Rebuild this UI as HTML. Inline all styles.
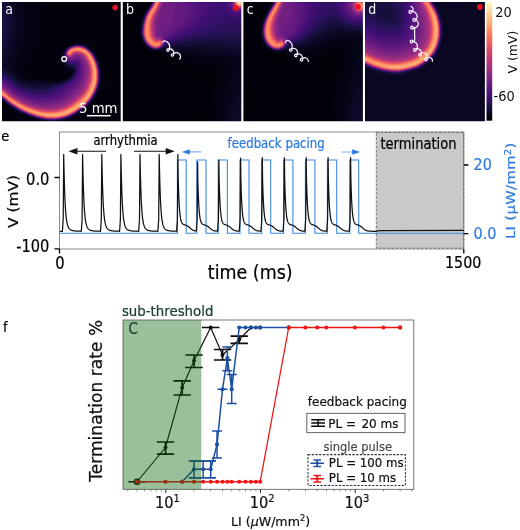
<!DOCTYPE html>
<html><head><meta charset="utf-8"><title>Figure</title>
<style>html,body{margin:0;padding:0;background:#fff}svg{display:block}text{font-family:"DejaVu Sans","Liberation Sans",sans-serif}</style>
</head><body>
<svg width="520" height="530" viewBox="0 0 520 530">
<rect width="520" height="530" fill="#fff"/>
<defs><filter id="pb" x="-10%" y="-10%" width="120%" height="120%" color-interpolation-filters="sRGB"><feGaussianBlur stdDeviation="0.8"/></filter><filter id="pb2" x="-10%" y="-10%" width="120%" height="120%" color-interpolation-filters="sRGB"><feGaussianBlur stdDeviation="2.2"/></filter><filter id="mag" x="0" y="0" width="100%" height="100%" color-interpolation-filters="sRGB"><feComponentTransfer><feFuncR type="table" tableValues="0.001 0.014 0.040 0.074 0.113 0.159 0.212 0.265 0.317 0.366 0.415 0.464 0.513 0.563 0.614 0.665 0.716 0.767 0.817 0.863 0.904 0.937 0.961 0.977 0.987 0.993 0.996 0.997 0.997 0.995 0.992 0.989 0.987"/><feFuncG type="table" tableValues="0.000 0.012 0.031 0.052 0.065 0.068 0.062 0.060 0.072 0.090 0.110 0.130 0.148 0.165 0.182 0.198 0.215 0.234 0.256 0.284 0.320 0.365 0.418 0.476 0.536 0.595 0.654 0.712 0.770 0.827 0.884 0.941 0.991"/><feFuncB type="table" tableValues="0.014 0.069 0.134 0.203 0.277 0.353 0.419 0.462 0.485 0.498 0.505 0.508 0.508 0.505 0.499 0.489 0.475 0.458 0.436 0.412 0.388 0.369 0.360 0.364 0.382 0.410 0.446 0.488 0.535 0.586 0.640 0.698 0.750"/></feComponentTransfer></filter></defs>
<svg x="2" y="2" width="118.7" height="119.2" viewBox="0 0 118.6 118.6" preserveAspectRatio="none" overflow="hidden"><g filter="url(#mag)"><rect x="-6" y="-6" width="131" height="131" fill="#020202"/><g filter="url(#pb2)"><path fill="#050505" fill-rule="evenodd" d="M-2 -2 -2 121 121 121 121 -2zM49.5 80 52.5 79 58 79 59 80 58 80.5zM46.5 79 47 78.5 49 79 48 79.5zM58.5 79 59.5 78 63 79 62 79.5zM62.5 78 63 77 65 78 64 78.5zM67.5 75.5 66 77.5 64.5 77 67 75zM70 72.5 70.5 74 69 75.5 68 75.5 67.5 75 69 74zM61.5 49 62.5 48 64 49 63 49.5z"/><path fill="#080808" fill-rule="evenodd" d="M-2 -2 -2 96 0 96 10 103.5 22.5 110.5 36.5 115.5 45.5 117 54.5 117 63 115.5 70.5 112.5 82.5 104.5 88.5 98 92 92.5 95 86 97 79 97 70 96.5 65 93.5 56 90 50 84.5 45.5 78.5 43 71 43.5 65.5 46.5 63.5 49.5 60.5 50 60 59 61.5 64 67 69.5 70 71 72.5 71 69.5 75.5 68 76 66.5 77.5 63 79 62 80 59.5 79.5 58 81 50 81 49 80 44.5 79 39.5 75 28 75 23 74 21 72 26 64 31.5 52.5 35 41 37 32.5 37.5 19 34.5 -2z"/><path fill="#0b0b0b" fill-rule="evenodd" d="M-2 -2 -2 95.5 1 96 13 105 23 110.5 34 114.5 44.5 117 56 117 65.5 114.5 72.5 111 81 105.5 87 99.5 90.5 95 94.5 87 96.5 80 96.5 66 94.5 59 90 50.5 84 45.5 77 43 69 44.5 66 46.5 64 49.5 61 50.5 60 56 61 60.5 62 63 66 67.5 72.5 70 72.5 71.5 69 76 62 80 59 80 58 81 49.5 81 40.5 77 31.5 77.5 21 75.5 15 70.5 12.5 67.5 18 57 21 50 25.5 32.5 26 19 23 -2z"/><path fill="#0e0e0e" fill-rule="evenodd" d="M-2 -2 -2 95.5 0.5 95.5 12 104 23.5 110.5 34 114.5 43 116.5 54.5 117 62 115.5 72 111 80 106 85.5 101 91 93.5 94 87.5 96.5 79 97 70 96 65 94.5 59.5 90 51 85.5 46.5 78.5 43.5 73 43.5 66.5 46 63.5 50 61 50.5 61 58.5 63 63.5 67 67 71.5 69 73.5 69 73 71 71 73 71 74.5 62.5 80 59.5 80 58.5 81 50 81 42.5 78 38 79.5 32 79.5 25 78.5 20 77 7.5 66 14 51.5 17 42 19 32 19.5 15 16.5 -2z"/><path fill="#111111" fill-rule="evenodd" d="M-2 -2 -2 95 1 95.5 10.5 103 21.5 109.5 33.5 114 43.5 116.5 53.5 117 61.5 115.5 70 112 81 105 86.5 100 91 94 94 87 96.5 78.5 97 72 95.5 63 93.5 57.5 89.5 50.5 84 46 78 43.5 73.5 43.5 70 44.5 66 47 64 50 61.5 50.5 61 58.5 63.5 63 67 66 71 68 73 68 74 69 73 71.5 69.5 76 62.5 80 59.5 80 58.5 81 49.5 81 48 80 46.5 80.5 43 79 39.5 80.5 33 81 20 78 3.5 64 10 51 14.5 33.5 15 16.5 12 -2z"/><path fill="#141414" fill-rule="evenodd" d="M-2 -2 -2 95 0.5 95 11 103.5 23 110 34 114 44 116.5 52.5 117 62 115 72 111 80 106 86 100.5 91 93 94.5 86 96 80 96 66 93 57 90 51.5 83.5 45.5 77.5 43.5 74 43.5 69 45 67 46 64 50 61.5 51 61.5 58.5 64 63 69 66.5 71 67 74.5 67 74 69.5 71 74.5 62 80 59 80 58 81 49 81 45 80 44 81 36 82 28.5 81.5 19 79 1 64 6.5 51 10 38.5 11.5 30 12 18 9 -2z"/><path fill="#171717" fill-rule="evenodd" d="M94 59.5 89.5 51 84 46 77 43.5 70 44.5 66.5 46.5 64 50 62 51 61.5 57 64 62 66.5 64.5 70 66 74.5 66.5 74 69.5 71 75 62.5 80 59.5 80 58.5 81 49 81.5 47 81 45.5 82 39 83 29 83 19 80 0.5 65 -2 65 -2 95 1 95.5 10 102.5 20 108.5 35 114.5 44.5 116.5 50.5 117 57.5 116 65 114 73 110.5 82 104 88 97.5 92 91 95 84 96.5 77 96.5 69zM6 -2 -2 -2 -2 58.5 0.5 58 4 50.5 6.5 42 8.5 32 9 15z"/><path fill="#1a1a1a" fill-rule="evenodd" d="M94.5 60.5 89.5 51 85 46.5 78.5 44 73 44 69.5 45 66 47 64 50 62 50.5 62 57.5 64 62 67.5 64.5 74.5 66 75 67 71 74.5 62.5 80 59.5 80 58.5 81 49.5 81.5 46 83 39.5 84.5 32 84.5 19 81 1 66.5 -2 66.5 -2 95 1 95 7 100.5 17.5 107 26 111 35.5 114.5 45 116.5 55 116.5 65 114 71.5 111 82 104 86.5 99.5 91 93 95.5 82.5 96.5 76.5 96.5 70zM3.5 -2 -2 -2 -2 53 0 53 1 51.5 5 38 6.5 28.5 6.5 15.5z"/><path fill="#1d1d1d" fill-rule="evenodd" d="M94 60 90 52 84 46 78 44 70.5 44.5 67 46 64 50 62 51 62 56 64 61 67 63.5 72 65 75.5 65 73 71.5 71 73.5 71 74.5 62.5 80 60 80 59 81 50.5 81.5 47 84 38 86 29 85 17 81.5 1 68 -2 67.5 -2 95 0.5 95 8 101 19.5 108 34.5 114 46 116.5 54.5 116.5 66.5 113.5 74 109.5 83 103 87.5 98 91.5 92 95 83.5 96.5 76 96 67.5zM-2 -2 -2 47.5 0 47.5 2 43 4 31.5 4.5 16 1.5 -2z"/><path fill="#202020" fill-rule="evenodd" d="M94 59 90 51.5 83.5 46 78 44 73.5 44 68 46 64 50 62.5 50.5 62 57 63.5 60 66.5 63 71 64.5 75.5 64 76 65 74 69.5 71 74.5 67 78 63 80 60 80 58 81.5 50 82 48 85 40.5 86.5 30 86 17 82 1 68.5 -2 68.5 -2 95 0.5 95 8 101 17 107 24.5 110.5 36 114.5 46 116.5 54 116.5 65.5 114 72.5 110.5 83.5 102.5 89 96 92 91 95 83 96.5 75 96 68zM-2 2.5 -2 41.5 0 41.5 2.5 30.5 3 17.5 1 4 0 2.5z"/><path fill="#232323" fill-rule="evenodd" d="M94 60 89.5 51 83 45.5 77.5 44 74 44 68 46 64 50 62.5 51 62 56 64 60 67 62.5 70 64 75 63.5 76 64.5 74 69.5 71 75 62 80.5 59.5 80.5 58.5 81.5 51 82 50.5 83.5 48 86 40.5 87.5 31 87 18 83.5 14 81 1 69.5 -2 69 -2 95 0.5 95 9 101.5 18 107 35 114 47 116.5 56 116 64.5 114 71 111 81.5 104 87 99 91 92.5 94 86 96 78 96 68zM-2 10 -2 34 0 34 1 28 1 16 0 10z"/><path fill="#262626" fill-rule="evenodd" d="M94.5 61 91 53 86 47.5 81 45 77 44 70 45 66.5 47 64.5 50 62.5 51 62.5 56 65.5 61 71 63.5 75 63 76 65.5 71 75 66.5 78.5 62.5 80.5 59.5 80.5 59 81.5 53 82 48.5 86.5 46.5 87.5 33.5 88.5 25.5 87 15 83 0.5 70 -2 70 -2 94.5 0 94.5 16 106 33 113.5 47.5 116.5 56 116 65 114 73 110 82 103.5 86.5 99 91.5 92 95 83 96 77.5 96 68.5z"/><path fill="#292929" fill-rule="evenodd" d="M94 59.5 89 51 83 46 79 44 74.5 44 67.5 46 63 51 62.5 55.5 64 59 67 62 70 63 75.5 62.5 76 65 73 72 69.5 76.5 68.5 76.5 65 79.5 63.5 79.5 63 80.5 60 80.5 58 82 55 82 49 87.5 43.5 89 34 89.5 21 86 15 83.5 0.5 71 -2 71 -2 94.5 1 95 8.5 101 17 106.5 26.5 111 35 114 48.5 116.5 55.5 116 64 114 72 110.5 82 103.5 87.5 98 92 90.5 95 84 96 77 96 69z"/><path fill="#2d2d2d" fill-rule="evenodd" d="M94 60.5 90 52 83 46 76 44 69.5 45 67 46.5 64 50.5 63 51 63 56 64.5 59 68 62 74 62 75 61.5 76 62 76 65.5 75 66.5 74.5 69.5 70 76.5 63 80.5 56.5 82 55 84.5 48 89 44 90 35 90.5 24 88 16.5 85 11 81.5 1 72.5 -2 72 -2 94.5 0.5 94.5 8 101 18 107 35.5 114 45 116 55 116 66 113.5 73 110 82.5 103 91 93 93.5 87.5 96 77 96 69.5z"/><path fill="#303030" fill-rule="evenodd" d="M93.5 59 88.5 50 84 46.5 78.5 44 70.5 45 67 46.5 63 51 63 55 65 59 68.5 61.5 72.5 62 75 61 76 66 71.5 75 67 78.5 62.5 81 60 81 56.5 85 48 90 40 91.5 33 91 24.5 89 14 85 1 73.5 -2 73 -2 94.5 0.5 94.5 9 101.5 19 107.5 35.5 114 45 116 55 116 65 114 71 111 81 104 85.5 100 91 92 95 83.5 96 76.5 96 67z"/><path fill="#333333" fill-rule="evenodd" d="M94 60 89.5 51.5 84 46.5 78 44 70.5 45 67 47 65 50 63 51 63 56 66 60 69 61 73 61 75 60 76 62 76 66 73.5 72 70.5 76 65 80 61 81 62 82 56 87 46.5 92 33.5 92 22 89 13.5 85 1 74 -2 74 -2 94.5 0.5 94.5 10 102 20 108 36 114 45.5 116 54.5 116 66.5 113 72.5 110 81 104 87 98.5 91.5 91.5 94.5 84.5 96 76 96 67.5z"/><path fill="#363636" fill-rule="evenodd" d="M94 61 90 52.5 83.5 46 78 44 73.5 44 70 45 67 47 63 51 63 55 64 57.5 68 60.5 72.5 61 75 59.5 76 61 76.5 65.5 72 75 70 77 69 77 67 79 66 79 66.5 80 57.5 87 47.5 92.5 43.5 93 31 92.5 21 89.5 13.5 86 1 75 -2 75 -2 94.5 0.5 94.5 9 101 17 106.5 24.5 110 36 114 46 116 54 116 65.5 113.5 73.5 109.5 81.5 104 88 97 92 90 95 83 96 75.5 96 68z"/><path fill="#393939" fill-rule="evenodd" d="M93.5 59 89 51 84.5 47 78 44 71 45 66.5 47 64.5 50.5 63.5 51 63.5 55.5 64.5 57.5 68 60 72 60.5 75 59 76 60 76.5 66 75.5 67 74 72 72 74 70 78 58 88 47 93.5 32.5 93.5 22 90.5 13.5 86.5 0.5 75.5 -2 75.5 -2 94.5 1 95 9 101 18 107 35 114 46 116 54 116 64.5 114 71 111 82 103.5 86 99 91 92.5 95 83 96 75 95.5 66z"/><path fill="#3c3c3c" fill-rule="evenodd" d="M94 60 90 52 84.5 47 77.5 44 71 45 67.5 46.5 63.5 51 63.5 55 66 59 71 60 75 58 76.5 61 76.5 66 75 69 75 70.5 74 71 74 73 71 78.5 58 89 49.5 93.5 46 94.5 41 95 31 94 22 91 14 87.5 0.5 76 -2 76 -2 94 1 94.5 8.5 101 18.5 107 36 114 46.5 116 53.5 116 66 113 73 110 82 103 87.5 97.5 91 92 94 85 96 78 96 68z"/><path fill="#3f3f3f" fill-rule="evenodd" d="M94 61 90 52 85 47 77 44 70 45 65.5 48.5 63.5 52 63.5 54.5 64.5 57 68.5 59.5 72 59.5 75 57.5 76 58.5 77 66 76 67 76 69.5 72 79 59.5 89.5 47 95 32 95 22 92 15.5 89 11 86 0.5 77 -2 77 -2 94 1 94.5 8.5 101 20.5 108 36 114 47 116 53 116 66 113 74 109 82 103 87 98 91 92 93.5 87 96 78 96 68.5z"/><path fill="#424242" fill-rule="evenodd" d="M93.5 59.5 89.5 52 85 47 80 45 77 44 70 45 65.5 48.5 64 51 64 55 66 58 68.5 59 72 59 75 57 76 58 77 66 77 70 72.5 79.5 60 90.5 48 96 37 96 32 95.5 22 92.5 12.5 88 0.5 77.5 -2 77.5 -2 94 1 94.5 9.5 101.5 17 106 25 110 35 114 44.5 116 52.5 116 65 113.5 74 109 83 102.5 87 98 92 90.5 94.5 84 96 77.5 96 69z"/><path fill="#454545" fill-rule="evenodd" d="M94 60.5 90 53 85 47.5 79 44.5 71 45 65.5 48.5 64 51.5 64 54.5 66 57.5 68.5 59 71 59 74.5 57 76.5 58 78 69 75.5 76.5 73.5 80 70 84 61 91 57 93.5 47 97 40.5 97 32 96 25 94 13 89 1 78.5 -2 78 -2 94 0.5 94 8 100.5 17.5 106.5 34 113.5 48 116 55.5 116 63 114 71.5 110.5 81 104 85 100 90.5 93 94 86 96 77 96 69z"/><path fill="#484848" fill-rule="evenodd" d="M94 60.5 90 53 84 47 76 44 69.5 45.5 65 49 64 52 64 54 65 56 67.5 58 71 58.5 74 56.5 75.5 56.5 77 58 78.5 64 78.5 70 76.5 76.5 73 82 60 93 46.5 98 31.5 97 24 94.5 14 90 1 79 -2 79 -2 94 0.5 94 7 99.5 18 107 26 110.5 36.5 114 51 116 59 115 66 113 73 109.5 81 104 86.5 98.5 91 92 94 85 96 77 96 69.5z"/><path fill="#4b4b4b" fill-rule="evenodd" d="M94 61.5 90.5 53.5 85 47.5 78.5 44.5 70.5 45 66 48 64 52.5 64 54.5 66 57 69 58 71.5 58 74.5 56 77 57 79 61.5 79 70.5 77.5 76.5 74 82 61.5 93 57 95.5 48 98.5 42 99 31 97.5 15 91 10 88 1 80 -2 79.5 -2 94 0.5 94 9 101 19 107 35.5 114 45 116 55 116 65 113.5 72.5 110 81 104 86.5 98.5 91 92 94.5 83.5 96 76.5 96 70z"/></g><g filter="url(#pb)"><path fill="#4c4c4c" fill-rule="evenodd" d="M93 59 89 51.5 85.5 48 81 45 78.5 44.5 73 44.5 68 46.5 66 48 64 51.5 64 54.5 65.5 56.5 68 58 71 58 72.5 57 74 56 75 56 78 58.5 79 60 79.5 65.5 80 66 79.5 70.5 77.5 77.5 74 83 66 90 60 94.5 57.5 96 48 99 44 99 44 99 38 99 37.5 98.5 35.5 98.5 30 97.5 21 94 13.5 90.5 9.5 88 0 80 -2 80 -2 94 0.5 94 10 102 19 107 25 110 35.5 114 45 116 55 116 65 113.5 72.5 110 81.5 103.5 86.5 98.5 91 91.5 94.5 83.5 96 76.5 95.5 67z"/><path fill="#545454" fill-rule="evenodd" d="M94 61 91 54 89 51 86 48 82 46 78 44.5 73.5 44.5 68.5 46 65.5 49 64 52 64 53 65 55.5 66.5 56.5 68 57 70 57 72 56.5 73.5 55 75.5 55 77 55.5 79 58 81 63.5 81 70 79.5 77 78 80 75 84.5 67 92 62 95.5 57.5 98 48 100.5 40 100.5 39.5 100 35 100 28 98 20 95 11.5 90.5 0 81 -2 81 -2 94 1 94.5 7.5 100 17 106 26 110.5 36 114 46 116 54 116 54.5 115.5 60 115 65.5 113 73.5 109 82 103 86 99 90 93 93 87 95.5 78.5 96 71 95.5 70.5 95 66z"/><path fill="#5c5c5c" fill-rule="evenodd" d="M93.5 60 90 53 88 50.5 85 47.5 81 45.5 77.5 44.5 74 44.5 70 45.5 67.5 47 66 48.5 64.5 51 64.5 53.5 65.5 55 67 56 69.5 56.5 71 56 73 54 76 54 78 55 80 57 81.5 60.5 82.5 65 82.5 71.5 80.5 79 79 82.5 76 86 68 93.5 62.5 97.5 59 99 55 100.5 54 100.5 52.5 101 47.5 102 39 102 30 100 22 97 14.5 93.5 9 90 0 82.5 -2 82.5 -2 94 1 94 8.5 100.5 19 107 27 111 36 114 46.5 116 53.5 116 54 115.5 60 115 66 113 74 109 82.5 102.5 87 98 91 92 94 85 95.5 78 95.5 74.5 96 74 95.5 68z"/><path fill="#636363" fill-rule="evenodd" d="M93 59.5 89 52 85 48 82 46 77 44.5 74.5 44.5 69.5 46 67 47 66 48.5 65 50.5 64.5 52.5 65 54 66 55 68.5 56 70.5 55 73 53 76 53 79 54 81 56.5 82.5 59.5 84 64.5 84 67 84 67 84 73 82 80.5 79.5 85 77.5 87.5 71 94 63 99.5 58 101.5 51.5 103 47 103.5 46.5 104 40 103.5 30 101.5 23 99 14 94.5 8.5 91 0.5 84 -2 84 -2 94 0.5 94 8 100 17.5 106 26.5 110.5 35 113.5 44.5 115.5 52.5 116 53 115.5 56 115.5 56 115 59.5 115 65 113 73 109 81 103.5 86.5 98 89 94.5 92 90 94 84 95.5 77.5 95.5 69 95 68.5 95 65z"/><path fill="#6b6b6b" fill-rule="evenodd" d="M94 62.5 92 56.5 89 51.5 84 47 79 45 75 44.5 70.5 45.5 66.5 48 65 51 65 53 66.5 55 68.5 55 70 54.5 72.5 52 76 52 79 53 82 56 83 58 85 65 85.5 70 85 70.5 85 75.5 83 81 81.5 84.5 78 89 72 95 67 99 61.5 102 57 103.5 50.5 105 44.5 105 44 105 38.5 104.5 31 103 22.5 100 13.5 95 9 92 0 85 -2 85 -2 94 0.5 94 10 101.5 19 107 26 110 33 113 42.5 115 48 115.5 48.5 116 55 115.5 62 114 66 113 71 110.5 78.5 105.5 81.5 103 86 99 89.5 94 93 86.5 95 79.5 95.5 69.5z"/><path fill="#737373" fill-rule="evenodd" d="M93 60 90.5 54 88 51 86 48.5 81.5 46 78.5 45 73 45 68 47 66 49 65 51 65 52.5 67 54.5 69.5 54 70.5 52.5 72 51.5 77 51 80 52.5 83 55.5 85 60.5 86.5 66 86.5 73 86 73.5 86 76 84.5 81.5 82 86 79.5 90 74 95 68.5 99.5 65 102 60.5 104 56 105 54.5 105 51 106 41.5 106 29.5 103.5 22 100.5 12.5 95.5 7 92 0 86 -2 86 -2 94 1 94 9 100.5 17 106 27 110.5 37 114 45.5 115.5 54.5 115.5 55 115 59 115 66.5 112.5 73.5 109 82 102.5 87 97.5 91 91 94 83.5 95 79 95 76.5 95.5 76 95 67z"/><path fill="#7a7a7a" fill-rule="evenodd" d="M94 62 92 57 89 52 86 49 82 46 78 45 73.5 45 68.5 46.5 66 49 65 52 65 53 67 54 68.5 54 69.5 53.5 71 51.5 72 51 76.5 50.5 79 51 80.5 52 83 55 86 60 87 65.5 87 68 87.5 68.5 87 75 85 82.5 83 86.5 80 91 73.5 97 66 102.5 60 105 50.5 107 43 107 43 107 40.5 107 37 106 35 106 34 105 28 104 23 102 14 97 7 92.5 1 87 -2 87 -2 93.5 1 94 8.5 100 18.5 106.5 24 109 31.5 112 32.5 112 40 114.5 45.5 115 46 115.5 54 115.5 62.5 114 71 110 80.5 104 85 100 90 92.5 93 87 95 78.5 95.5 71 95 71 95 67.5z"/><path fill="#828282" fill-rule="evenodd" d="M93 60 89 52 85 48 81 46 77.5 45 74 45 70 46 68 47 66 48.5 65 50.5 65 52.5 66.5 54 69 53.5 70 52 71 51 73 50 77 50 81 52 83.5 54.5 85.5 58 87 63 87.5 66 88 66.5 88 74.5 87.5 75 87 78.5 86 82.5 83.5 87 80 92 71.5 99.5 66.5 103 61 105.5 52.5 107.5 44.5 108 44 107.5 39 107 31 105 23.5 102.5 14.5 98 8 93.5 0.5 87 -2 87 -2 93.5 0.5 93.5 10.5 101.5 21 108 22 108 27 110.5 36 113.5 44 115 53 115.5 53.5 115 56 115 61 114 66 112.5 72 109.5 81 103 86 98 91 91 93.5 85 95 78 95 73.5 95.5 73 95 72.5 95 68z"/><path fill="#8a8a8a" fill-rule="evenodd" d="M93 59.5 90.5 54.5 88.5 51.5 85 48 80 45.5 77 45 74 45 71 45.5 68 47 66 49 65 51 65 52 66.5 53.5 68.5 53.5 69.5 52 71 50.5 73 50 77 50 81 51.5 83.5 54 86 58 87.5 62.5 88.5 68 88.5 73 88 73.5 88 78 86 83 84 87 81 92 76 97 70 101 66.5 103.5 61.5 106 57 107 52 108 42.5 108 30.5 105.5 25 103.5 20 101 19 100.5 18.5 100.5 15.5 98.5 15 98.5 8 94 0.5 87.5 -2 87.5 -2 93.5 0.5 93.5 9 100.5 18 106 26.5 110 35 113 44 115 52.5 115.5 53 115 56 115 56 115 59.5 114.5 65 113 73 109 81.5 103 85.5 99 90 93 93 86 95 77.5 95 69 95 68.5 94.5 65z"/><path fill="#919191" fill-rule="evenodd" d="M94 62.5 92.5 59 90 53.5 88 51 84.5 48 81 46 76 45 72.5 45 68 47 65.5 50 65 52 67 53.5 68.5 53 69 52.5 69 52 71 50 73 49.5 77 49.5 80 50.5 82 52 84 54 86.5 58.5 88.5 65 88.5 67 89 67 88.5 77 87.5 81 86 85 83.5 89 80.5 93 75.5 98 68 103 64 105.5 58 107.5 55 108 53 108.5 50.5 108.5 50 109 45 109 45 108.5 42 108.5 40 108 36.5 107.5 35 107 34 107 30 105.5 29 105.5 22 102.5 14 98 8 94 0.5 88 -2 88 -2 93.5 1 93.5 9 100 19.5 107 26 110 34 113 42.5 115 48.5 115 49 115.5 55 115 62 114 70 110.5 77.5 106 82 102 85 99 89.5 93 93 86.5 95 79.5 95 69z"/><path fill="#999999" fill-rule="evenodd" d="M93 60 90.5 55 87.5 50.5 85 48 81.5 46 78.5 45 73 45 68.5 47 66 49 65 52 66.5 53 68 53 69 51.5 71.5 50 73.5 49 77 49 81 51 84.5 54 87 58.5 89 65 89 75 89 75 89 77.5 87 83 84 89.5 80.5 94 76 98 70.5 102 67 104.5 62.5 106.5 58.5 108 53.5 109 51 109 51 109 45 109 44.5 109 41.5 109 36.5 108 26.5 105 19 101.5 9 95 0.5 88 -2 88 -2 93 1 93.5 10 101 18 106 24.5 109 34.5 113 43 115 45 115 45.5 115 54.5 115 55 115 59 114.5 65.5 112.5 71 110 80.5 103.5 86 98 90 92.5 92.5 87 94 83.5 95 79 95 76.5 95 76 95 67z"/><path fill="#a1a1a1" fill-rule="evenodd" d="M92.5 59 91 56 91 55.5 88.5 52 85 48 80.5 46 78 45 73 45 69 46.5 67 48 66 49.5 65.5 52 66.5 53 68 53 69 52 69 51.5 71 50 73 49 76 49 79 49.5 81 50.5 85 54 87.5 59.5 89 65 89.5 75 89 75 89 79 87 84 84.5 89 82 93 76.5 98 67.5 104.5 62 107 54 109 51.5 109 51 109.5 45 109.5 44.5 109 42 109 36.5 108 26 105 17 100.5 8.5 95 0.5 88.5 -2 88.5 -2 93 0.5 93 9.5 100.5 19 106.5 25.5 109.5 35 113 43 115 46 115 46 115 57 115 64.5 113 70.5 110 76 107 81 103 86 98 90 92 92 88 94 83 95 78.5 95 75.5 95 75 95 67.5z"/><path fill="#a8a8a8" fill-rule="evenodd" d="M93.5 62 92 58 88 51.5 85 48.5 81 46 77.5 45 74 45 70 46 68 47 66 49 65.5 50.5 65.5 52 66 53 68 53 69 51 71 49.5 73 49 77.5 49 82 51 85 54 86.5 56.5 89 64 89.5 67 90 67.5 90 74.5 89.5 75 89.5 77.5 87.5 84 85.5 88 81 94.5 76 99 70 103.5 63.5 107 60 108 53.5 109.5 51 109.5 51 110 45 110 45 109.5 42 109.5 37 108.5 28 106 19 102 8 95 1 89 -2 89 -2 93 1 93.5 9 100 17.5 105.5 24 109 34 112.5 42 114.5 47 115 47 115 53 115 53.5 115 56 115 62 113.5 67 112 71.5 109.5 80 104 85 99 89.5 93 92.5 87 95 78 95 68z"/><path fill="#b0b0b0" fill-rule="evenodd" d="M94 63.5 92 59 89.5 53.5 87.5 51 83.5 47.5 79 45.5 74.5 45 69.5 46.5 66.5 49 65.5 51 65.5 52 66.5 53 67.5 53 69.5 50 71.5 49 74 48.5 77 48.5 80.5 50 82.5 51 85 54 87.5 58 89.5 64 90 68 90 68 90 77 88 84 86 88 82 94 77.5 98 72 102.5 66.5 106 60 108.5 53.5 110 51 110 50.5 110 46 110 45.5 110 42.5 110 37 109 27 106 17 101 8 95 0 89 -2 89 -2 93 1 93 9 100 19.5 106.5 26 109.5 34 112.5 42 114.5 48 115 48.5 115 56 115 61 114 66 112 70 110 79 104.5 84.5 99.5 89 93 93 86 93 85 93.5 84 94.5 80 95 69z"/><path fill="#b8b8b8" fill-rule="evenodd" d="M94 64 92 58 89 53 85 48.5 83 47 78.5 45.5 73 45.5 68.5 47 66.5 49 65.5 51.5 67 53 68 52.5 68.5 51 70 49.5 73 48.5 78 48.5 81.5 50 85 53.5 87.5 57.5 90 64.5 90 68.5 90.5 69 90 77 88 84 86 89 81 95.5 77 99 70.5 104 64.5 107 60 109 53.5 110 46.5 110.5 46 110 41 110 33.5 108 25 105 16 101 7.5 95 0.5 89 -2 89 -2 93 1 93 8.5 99.5 18 105.5 27 110 35.5 113 45 115 55 115 64 113 71 109.5 79 104 85.5 98 88.5 94 92.5 86.5 94.5 79 95 69.5 94.5 69 94.5 67 94 65z"/><path fill="#bfbfbf" fill-rule="evenodd" d="M93.5 63 92 58.5 89.5 54 88 51.5 85 49 83 47.5 78 45.5 73 45.5 68 47.5 66.5 49 66 50.5 66 52 66.5 52.5 67.5 52.5 68 52 68 51 70 49.5 73.5 48 78.5 48.5 83 51 85.5 53.5 88.5 59 90.5 66 91 73.5 90.5 74 90 79 88.5 84 86 89.5 82.5 94 78 99 74.5 101.5 68.5 105.5 62 108.5 55.5 110 50 110.5 50 111 43 110.5 37.5 109.5 27.5 106.5 17 101.5 7 95 0.5 89.5 -2 89.5 -2 93 0.5 93 9 100 17 105 22 107.5 31.5 111.5 32.5 111.5 40 114 43 114.5 45.5 114.5 46 115 54 115 63.5 113 68.5 111 72 109 80 103.5 85 99 89 93 92.5 86 94.5 79 95 71 94.5 70.5 94.5 67.5z"/><path fill="#c7c7c7" fill-rule="evenodd" d="M93.5 63.5 91.5 58 88.5 52.5 86 49.5 81 46.5 77.5 45.5 74 45.5 70 46.5 68 48 66.5 49 66 51.5 67 52.5 68 52 68 51 69.5 49.5 71.5 48.5 74.5 48 78 48 83 50.5 85.5 53 88.5 58.5 90.5 64.5 91 69 91 69.5 91 77.5 89 84.5 85.5 91 82.5 95 78 99 69 106 65 108 59 110 54 111 46.5 111 46 111 41 110.5 32.5 108.5 31.5 108 27.5 107 23 105 16 101 8 96 0.5 90 -2 90 -2 93 1 93 9 99.5 18 105.5 26.5 109.5 35 112.5 44 114.5 47.5 114.5 48 115 56 114.5 64 112.5 71 109.5 80 103 86 97.5 89.5 92 92.5 86 94.5 78 94.5 68z"/><path fill="#cfcfcf" fill-rule="evenodd" d="M93.5 64 91.5 58 90 55 88 52 85 49 83 47.5 78.5 46 74.5 45.5 70.5 46.5 68.5 47.5 66.5 49.5 66 51 66.5 52 67 52 68 51 69.5 49 71.5 48 75 47.5 78 48 83 50 86 53.5 89 58.5 91 64.5 91 68 91.5 68.5 91.5 75 91 75.5 91 80 89 85 86 91 83 95 78 100 73 104 69 106 61 110 52 111.5 45 111.5 45 111 42.5 111 36 110 24 106 23.5 105 23 105 18 103 8 96.5 0 90 -2 90 -2 92.5 0.5 92.5 8 99 18 105 24.5 108.5 32 111.5 33 111.5 35.5 112.5 37 112.5 39 113.5 41 113.5 44.5 114.5 55.5 114.5 64 112.5 71 109 79.5 103.5 85 98 89 92.5 92.5 85.5 92.5 84.5 93.5 82.5 93.5 81 94.5 77 94.5 69 93.5 65.5z"/><path fill="#d6d6d6" fill-rule="evenodd" d="M93 63 92.5 62 92.5 61 91.5 59.5 91 58 88 52.5 86 50 82.5 47.5 78 46 73.5 46 70 47 69.5 47.5 68 48 67 49 66 51 66.5 52 67 52 68 50 70 48.5 74.5 47 79.5 48 83.5 50 86 53 87.5 55 90 60.5 92 67 92 74 92 74.5 91 81 90.5 82 90 84 88 89 84 94.5 78 101 69 107 64.5 109 63.5 109 61.5 110 60.5 110 58 111 56 111 51.5 112 46 112 41.5 111 39.5 111 33 109 32 109 22 105 16 102 8.5 97 0 90 -2 90 -2 92.5 1 92.5 10 100 18 105 23 107.5 23.5 107.5 25 108.5 28 109.5 30 110.5 34 111.5 35 112 46 114.5 54 114.5 61 113 62 112.5 63 112.5 67 111 67.5 110.5 71 109 79 104 85.5 97.5 88 94 92.5 85 92.5 84 93.5 82 93.5 80 94 78.5 94.5 71 94 70.5 94 68 93.5 66z"/><path fill="#dedede" fill-rule="evenodd" d="M93 64 92 63 92 61 91 60 91 58.5 90 57.5 90 56 89 55 88 53 87.5 52.5 86 50.5 82.5 48 81.5 48 80.5 47 78.5 47 77 46 74.5 46 73 47 71 47 70 48 69 48 67 49.5 67 51 67 50 69 48 70 48 71 47 73 47 74 46.5 77 46.5 78.5 47 81 47.5 83 49 84 49 87.5 53 90.5 58 90.5 59 91.5 61 92 63 92.5 63.5 92.5 65.5 93.5 68.5 93.5 78 92.5 80.5 92.5 83 92 83.5 91.5 86 90.5 87 90.5 88 90 88.5 89.5 90 89 90.5 88.5 92 87.5 93 87.5 93.5 87 94 84.5 97.5 80.5 101.5 72 107.5 67 110 66.5 110.5 65.5 110.5 64 111.5 61.5 112 61 112.5 58.5 112.5 56 113.5 44 113.5 43 113 39 112.5 38 112 35.5 111.5 33.5 110.5 32 110.5 31.5 110 29.5 109.5 26 108 24.5 107.5 24 107 23 107 22 106 18.5 104.5 18 104 17 103.5 13.5 101.5 13 101 12 100.5 11.5 100 8 98 0 91 -2 91 -2 92 1 92 3 94 3.5 94 4 95 7.5 97.5 8 98 8.5 98 12 101 14.5 102 17 104 18 104 19 105 20 105 20.5 106 22 106 22.5 107 24 107 25 108 26 108 27 109 28.5 109 29.5 110 31.5 110 32 111 34.5 111 35.5 112 38 112 39 113 43 113 44.5 114 55.5 114 57 113 60.5 113 61.5 112 64 112 65 111 66 111 67 110 68.5 110 69.5 109 70.5 109 71 108 72 108 74.5 106 75 106 80.5 102 86 96 86 95.5 87 95 87 94 90 90 90 89 91 88 91 86.5 92 85.5 92 83.5 93 82.5 93 79 94 77 94 69 94 68 93 67z"/></g></g></svg>
<svg x="122.8" y="2" width="118.5" height="119.2" viewBox="0 0 118.6 118.6" preserveAspectRatio="none" overflow="hidden"><g filter="url(#mag)"><rect x="-6" y="-6" width="131" height="131" fill="#040404"/><g filter="url(#pb2)"><path fill="#070707" fill-rule="evenodd" d="M30 -2 30 1 22 14 19.5 24.5 19.5 33.5 22.5 41 25 43.5 30 46.5 34 47 37 46 39 53 58.5 58 77 65 83.5 68 92.5 68 93 72 88 121 121 121 121 -2z"/><path fill="#0a0a0a" fill-rule="evenodd" d="M30.5 -2 30.5 0.5 23.5 12 20.5 20.5 19.5 31 20.5 36 23 41 26.5 44.5 29.5 46 35 47 37.5 46 39 50 58 52.5 77 57 83 59 95 59 102.5 60.5 103.5 62 99 90 95.5 121 121 121 121 -2z"/><path fill="#0d0d0d" fill-rule="evenodd" d="M31 -2 31 0 23 13.5 20 25.5 20 32.5 21 37.5 23.5 41.5 27 44.5 31 46.5 36 46.5 37.5 45.5 39 48.5 57.5 49.5 76.5 52 83 54 97 54 114 57.5 116.5 59 112 66.5 107.5 80.5 103 102.5 100.5 121 121 121 121 -2z"/><path fill="#111111" fill-rule="evenodd" d="M121 83 118.5 83 117 84 112 93 108 104.5 105 117 105 121 121 121zM31 -2 30 2 23 14 20 27 20 31.5 21 37 23 41 27.5 45 31.5 46.5 35.5 46.5 38 45.5 39 47.5 58.5 47.5 78 49 82.5 50.5 97.5 50.5 116 54 121 54 121 -2z"/><path fill="#141414" fill-rule="evenodd" d="M121 103 118.5 103 115 107 110.5 117.5 110 121 121 121zM22.5 15 20 28 20.5 35 23.5 41 27 44.5 30.5 46 35 46.5 38 45.5 39 46.5 60 46 78 46.5 82 47.5 95.5 47 116.5 51 121 50.5 121 -2 31 -2 31 1z"/><path fill="#171717" fill-rule="evenodd" d="M21.5 18 20 25.5 21 36 24.5 42 31 46 34.5 46.5 37.5 45 40 46 54.5 44.5 78 44 81 45 97 44.5 114 47.5 121 47.5 121 -2 31 -2 31 0 24 11.5z"/><path fill="#1a1a1a" fill-rule="evenodd" d="M21.5 18.5 20 26 20 32 21 36.5 23.5 41 26.5 44 31 46 35.5 46 39 44.5 40 45 55.5 43 75 42 98.5 42 116 45 121 44.5 121 -2 31 -2 31 0.5 25 10.5z"/><path fill="#1d1d1d" fill-rule="evenodd" d="M21 22 20 31.5 21.5 37 26 43.5 31.5 46 35.5 46 39 44 76 40 84 40.5 97 39.5 114 42 121 41.5 121 -2 31 -2 30.5 2 23 14z"/><path fill="#202020" fill-rule="evenodd" d="M20.5 24 20 31 22 38 26 43 31.5 46 35 46 40 43.5 76 38.5 93 37 113 39 121 38.5 121 -2 31 -2 31 1 23.5 13z"/><path fill="#232323" fill-rule="evenodd" d="M20 28 20.5 33.5 23 39.5 27 44 32 46 37 45.5 40 43 77 36.5 93 35 121 35 121 -2 31 -2 31 1 23 15z"/><path fill="#262626" fill-rule="evenodd" d="M20.5 25 20.5 33 23 39.5 27 44 32 46 36 46 42 42 47.5 41.5 57 39 69 37 77 35 94.5 32 107.5 32.5 121 31 121 -2 31.5 -2 30.5 2 23.5 13.5z"/><path fill="#292929" fill-rule="evenodd" d="M20.5 33 22.5 39 26.5 43.5 29 45 34.5 46 42 41.5 66 36.5 76.5 33 94 29.5 109.5 28.5 118 25.5 121 25.5 121 -2 31.5 -2 31.5 0.5 24 13 22 17 20.5 25z"/><path fill="#2c2c2c" fill-rule="evenodd" d="M20.5 32.5 21.5 36.5 24 41 27.5 44 31 46 34 46 37 45 43 41 66 35 92.5 27 107.5 24 118 20 121 20 121 -2 31.5 -2 31.5 0.5 25 10.5 22 18.5 20.5 26z"/><path fill="#2f2f2f" fill-rule="evenodd" d="M20.5 32 23 39 26 43 31 46 35.5 46 43 40 70 32.5 77.5 29 87 26 93 23 106.5 19 121 17 121 -2 31.5 -2 31.5 0.5 25 11 22 17.5 20.5 26z"/><path fill="#323232" fill-rule="evenodd" d="M21 34 23 39 26 43 31.5 46 36 45.5 43 40 71 30.5 88 22.5 94 18 100 14.5 103 14 111.5 16 121 15 121 -2 31.5 -2 31.5 1 24.5 12 22.5 16.5 20.5 26.5z"/><path fill="#353535" fill-rule="evenodd" d="M21 34 23.5 40 27 43.5 31.5 46 36 45.5 40 42.5 43 39 65 31.5 80 23.5 88.5 17.5 93 10.5 97 7 100 7.5 104.5 11 110 14 121 14 121 -2 31.5 -2 31.5 1 25.5 10 22 18 20.5 27z"/><path fill="#383838" fill-rule="evenodd" d="M101.5 -2 102.5 5 107 10.5 113.5 13 121 12.5 121 -2zM23 39.5 27 43.5 30.5 45.5 36 45.5 43 38.5 50 36.5 71 27 80 20 86.5 13.5 90 6.5 91 -2 31.5 -2 31.5 1 25 11 22 19 20.5 31 21 35z"/><path fill="#3b3b3b" fill-rule="evenodd" d="M104 -2 104 3.5 107 9 113.5 12 121 12 121 -2zM23 39.5 28 44 32 46 35 46 38 44 43 38 49 36 68 27 72.5 23.5 82 13 86 4 86.5 -2 32 -2 32 0 25 11.5 22 19 20.5 30.5 21 35z"/><path fill="#3e3e3e" fill-rule="evenodd" d="M105 -2 105 3.5 106 6 109 9 113 11 121 11 121 -2zM23 39 28.5 44.5 32 46 36 45.5 40.5 42 43 37.5 51 34 67 25 73 20 78 13 81 5 82 -2 32 -2 32 0 25 11.5 22 19.5 21 25 21 33z"/><path fill="#424242" fill-rule="evenodd" d="M106 -2 106.5 4.5 110 9 113.5 10.5 121 10 121 -2zM78 -2 32 -2 31.5 1 24 13.5 21.5 21 21 33 22 37.5 24.5 41 30 45 36 45.5 41 41 43 37 51 33 66 23.5 72 17 75 11 77.5 4z"/><path fill="#454545" fill-rule="evenodd" d="M107 -2 107 4 110 8 114 10 121 9.5 121 -2zM74 -2 32 -2 31.5 1 23.5 14.5 21 23 21 33 22 36.5 24.5 41 30 45 32.5 46 36.5 45 41 41 42.5 36 49 33.5 62 24.5 67 19 71 13 73.5 5z"/><path fill="#484848" fill-rule="evenodd" d="M108 -2 108 3.5 111 8 113.5 9 121 9 121 -2zM70 -2 32 -2 31 2 23.5 14.5 21 25.5 21 34 25 41.5 31 45.5 36.5 45 41 41 42 35.5 49 32 59 24.5 64 19 67 13.5 69.5 6z"/><path fill="#4b4b4b" fill-rule="evenodd" d="M108.5 -2 109 4 112 8 114.5 9 121 8.5 121 -2zM66 -2 32 -2 32 0.5 23 15.5 21 26 21 32.5 22 36.5 24 40 27 43.5 33.5 46 37.5 44.5 41 40 41 35.5 49 31 58 22.5 62 17 64.5 10 66 3z"/></g><g filter="url(#pb)"><path fill="#4c4c4c" fill-rule="evenodd" d="M109 -2 109 3 110 5.5 112 7.5 114 8.5 121 8 121 -2zM63 -2 32 -2 32 0.5 29.5 5 25 12 23 15.5 22 20 21 26 21 26 21 32 22 37 24 40 27 43.5 31.5 45.5 35.5 45.5 38 44 39.5 42.5 41 40 41.5 37.5 41 35 49 30 55 24 59 18.5 62 11 63 6 63 4 63 4z"/><path fill="#545454" fill-rule="evenodd" d="M110 -2 110 3 111 5 112 6.5 114 7.5 117 8 118.5 7 121 7 121 -2zM52 -2 32 -2 32 1 25.5 11 23.5 15 21 24 21 26.5 21 27 21 33.5 22 36 24 40.5 27 43 30.5 45 32 45.5 36 45 40 42 41 40 40.5 36 38 32.5 43 29 48 24 49.5 21 50.5 17.5 51 14 51 14 51 11 51.5 11z"/><path fill="#5c5c5c" fill-rule="evenodd" d="M110.5 -2 110.5 3 111 4.5 113 6.5 115 7 121 6.5 121 -2zM41 -2 32 -2 32 0 31 3 26 10 24 14 22 21 22 22.5 21 24.5 21 30.5 22 37 24 40 26 42.5 28.5 44 32 45.5 35 45.5 37 44.5 39.5 42 40.5 40 40.5 37 40 36 38 34 35.5 33 34 33.5 33 32.5 34 31 34 30 35.5 28.5 34.5 24.5 34.5 18 35.5 14.5 37.5 10 38 8 38.5 7 39 3.5 41 1z"/><path fill="#636363" fill-rule="evenodd" d="M111 -2 111 2 111.5 4 113.5 6 115.5 7 117 7 118.5 6 121 6 121 -2zM40 -2 32 -2 32 1 26 10.5 23 17 21 25 21 33 23 38 24 40 27 43 31 45 34.5 45.5 36.5 45 39 42.5 40 40.5 40 38 38 35 37 34.5 33.5 34.5 33 33.5 33 32 33.5 31.5 33.5 30.5 34 29.5 33.5 28 33 23.5 33 23 33 18 35 12 37 9 38.5 3 40 1z"/><path fill="#6b6b6b" fill-rule="evenodd" d="M111.5 -2 111.5 3 113 5.5 116 6.5 117 6.5 118 6 121 6 121 -2zM39 -2 32 -2 32 0.5 31 2.5 27 8.5 24 14.5 22 21.5 21.5 25.5 21 26 21 32.5 22 35.5 23.5 39 28 44 30 45 33 45.5 35.5 45 38 44 40 41 40 38 38 36 37 35.5 34 36 33 35 32.5 33.5 33 30 32 28 32 26 31.5 26 31.5 20.5 32 20 32 17 36.5 7 38 2.5 39 1z"/><path fill="#737373" fill-rule="evenodd" d="M112 -2 112 1 111.5 1 112 3 114 5.5 115.5 6 117 6 118 5.5 121 5.5 121 -2zM38.5 -2 32 -2 32 1 26 11 24 15 22.5 19 21.5 24 21 32 23 38 25 41 27 43 31.5 45 36 45 39 42 40 40 39.5 38.5 38 37 36 36 34 37 33 36 31.5 32 31.5 30 31 28.5 31 25.5 30.5 25 30.5 21.5 31 21 31 17 36.5 5 37 2.5 38.5 0z"/><path fill="#7a7a7a" fill-rule="evenodd" d="M112 -2 112 2 112.5 4 114 5 115 6 117 6 118.5 5 121 5 121 -2zM38 -2 32 -2 32 1 24 14 23 18 21.5 24.5 21 31 22.5 37 24 40 26 42 28.5 44 32 45 35 45 37 44 39 42.5 39.5 41 39.5 39 38 37 35 37 34 38 33 38 33 36 31 33.5 30 28.5 30 26 30 25.5 30 22 30 21.5 30.5 17 32 13.5 36 4.5 36.5 3 38 0.5z"/><path fill="#828282" fill-rule="evenodd" d="M112 -2 112 2.5 112.5 3.5 114 5 117.5 5.5 119 5 121 5 121 -2zM37.5 -2 32.5 -2 32 1 26 10.5 24 15 22 21 22 22.5 21.5 25 21.5 28 21 28 21.5 33 23 38 24.5 40 27 43 29 44 32 45 34.5 45 36.5 44.5 38.5 43 39.5 41 39 39 37.5 37.5 36 37 35 37.5 34 39 33 38 33 37 32 36 30.5 34 29.5 28.5 29.5 20 30 16.5 34.5 7.5 36.5 2 37.5 0.5z"/><path fill="#8a8a8a" fill-rule="evenodd" d="M112.5 -2 112.5 3 114 5 116 5.5 117 5.5 118 5 121 5 121 -2zM37 -2 32.5 -2 32.5 0.5 26 11 24 14.5 22.5 20 22 25 21.5 25.5 21.5 32.5 22.5 36.5 24 39 28 43.5 30 44.5 33 45 34 45 37 44 39 42 39 39.5 38 38 36.5 37.5 35 38 33.5 39 33 38.5 32.5 37 30.5 35 29.5 32.5 29.5 30.5 29 28 29 21.5 30 16 37 0.5z"/><path fill="#919191" fill-rule="evenodd" d="M113 -2 112.5 2 114 4.5 115 5 117 5 118.5 4.5 121 4.5 121 -2zM32.5 -2 32.5 0.5 29 6.5 25 12.5 23 17.5 21.5 26 21.5 32 23 38 26.5 42 29 44 31 45 35.5 45 39 42 39 40 38 38.5 37 38 35 38 34 39.5 33 39 32.5 38 30 35.5 29.5 34 28.5 29 28.5 21 29 20.5 29 17 31 12 34 7 37 0.5 37 -2z"/><path fill="#999999" fill-rule="evenodd" d="M113 -2 113 3 114 4.5 116.5 5 118.5 4 121 4 121 -2zM32.5 -2 32.5 1 26 11.5 23 18 22 24 22 26.5 21.5 27 21.5 31.5 22 35 24 39 27.5 43 31.5 45 35 45 37 44 38.5 42.5 39 41 39 40 37 38 35 38.5 34 40 33.5 39.5 29.5 35 28.5 32 28.5 30 28 29.5 28 21 28.5 20.5 29 17 36.5 1 36.5 -2z"/><path fill="#a1a1a1" fill-rule="evenodd" d="M113 -2 113 2 114.5 4.5 117 5 118 4 121 4 121 -2zM33 -2 33 0 31.5 3 25.5 12 24 15 22 22.5 21.5 31 22.5 36 25 40 27 42.5 29 44 32 45 35 45 36.5 44 39 42 39 40 37.5 38.5 36 38.5 34.5 40 33.5 40 29.5 36 28 32.5 28 30 27.5 27 28 21 28 20.5 28.5 17 36.5 0 36.5 -2z"/><path fill="#a8a8a8" fill-rule="evenodd" d="M113 -2 113 2.5 115 4.5 116.5 5 118.5 4 121 4 121 -2zM36 -2 33 -2 33 0.5 26 11 24.5 14.5 22.5 21 22 25 22 25.5 22 32.5 22.5 35.5 24 38.5 27 42 30 44 32.5 45 34.5 45 37 44 38.5 42 39 40 37.5 39 36 39 35 40 33.5 40 29 36 28 33 27.5 28 27 28 27 24 27.5 24 28 19 29 14.5 36 1z"/><path fill="#b0b0b0" fill-rule="evenodd" d="M113.5 -2 113 2 114 4 115.5 4.5 117 4.5 119 3.5 121 3.5 121 -2zM33 -2 33 0.5 29.5 6.5 25.5 12.5 23.5 17.5 22 24 22 26 22 26.5 22 32 23.5 38 25 40 27.5 42.5 31.5 44.5 35 44.5 37 43.5 39 41.5 38.5 40 38 39 36.5 39 35 40.5 33.5 40.5 31 38.5 29 37 28 34.5 27 32 27 29 27 29 27 23 27 23 28 17.5 29.5 13 32.5 8 36 1 36 -2z"/><path fill="#b8b8b8" fill-rule="evenodd" d="M113.5 -2 113.5 2.5 115 4 116.5 4.5 118.5 3.5 121 3.5 121 -2zM33 -2 33 1 24.5 15 22.5 22 22 31 23 36 25 40 29 43.5 32 44.5 35 44.5 36.5 44 39 41 38.5 40 37.5 39 36 39 35 41 33.5 41 32 40 28.5 37 27.5 35 26.5 31 26.5 22 27.5 17.5 29.5 12.5 31.5 9.5 36 0.5 36 -2z"/><path fill="#bfbfbf" fill-rule="evenodd" d="M114 -2 113.5 2 115 4 117 4 118.5 3 121 3 121 -2zM33 -2 33 0 29.5 7 26.5 11 23.5 18 23.5 20 22.5 23 22.5 26 22 26 22 32 23 35.5 25 39.5 29 43 32 44.5 34.5 44.5 36 44 38.5 42 38.5 40 38 39.5 36 39.5 35 41 33 41 29.5 39 27 36 26 33 26 30 26 30 26 24 27 17 29 12.5 32 8 35.5 1 35.5 -2z"/><path fill="#c7c7c7" fill-rule="evenodd" d="M114 -2 114 2.5 114.5 3.5 116 4 117 4 119 3 121 3 121 -2zM33 -2 33 0.5 31 5 27 11 24 18 22.5 24.5 22.5 33.5 24 37.5 27 41.5 29 43 31 43.5 32 44 35 44 38.5 41.5 38.5 40.5 37 39.5 36 40 35.5 41.5 33 42 30 40 27 36.5 26 34.5 25.5 30.5 25 30 25.5 21.5 27 16 29 12 32 8 35.5 0 35.5 -2z"/><path fill="#cfcfcf" fill-rule="evenodd" d="M32 44 33 44 34.5 44zM37.5 40 36.5 40 37 42.5 36 43 38.5 41.5 38.5 41zM23 32.5 23 34 23 34.5 23 32.5zM23 23 23 26 23 25.5zM114 -2 114 2 115 4 117 4 119 2.5 121 2.5 121 -2zM35 -2 33 -2 33 1 27 11 25.5 14.5 25 15 25 17 24 18.5 24 20 24 20 24.5 18.5 26 17 26 16 27.5 14.5 28 13 30 10.5 34 3.5 34 3 35 0.5z"/><path fill="#d6d6d6" fill-rule="evenodd" d="M37 40 37 41.5 38 42 38 41 37.5 40zM114 -2 114 1 114 1.5 114.5 3 116 4 117 4 119 2 121 2 121 0.5 119 0.5 118.5 0 118.5 -2zM35 -2 33.5 -2 33.5 1 27 12 27 12 27.5 11 29 10 29.5 9 32.5 5 35 0.5z"/><path fill="#dedede" fill-rule="evenodd" d="M33 1.5 33 3 32 3.5 32 4.5 33 3zM114.5 -2 114 2 115 3.5 117 3.5 119 2 121 2 121 1 119 1 118 0.5 118 -2zM34 -2 34 -2 34 1 34 1z"/><path fill="#e5e5e5" fill-rule="evenodd" d="M114.5 -2 114.5 1 114 1.5 114.5 2.5 115.5 3.5 117.5 3 118.5 1.5 118 1 118 -2z"/><path fill="#ededed" fill-rule="evenodd" d="M115 -2 114.5 2 115 3 116.5 3.5 118 2 118 -2z"/></g></g></svg>
<svg x="243.4" y="2" width="119.5" height="119.2" viewBox="0 0 118.6 118.6" preserveAspectRatio="none" overflow="hidden"><g filter="url(#mag)"><rect x="-6" y="-6" width="131" height="131" fill="#040404"/><g filter="url(#pb2)"><path fill="#070707" fill-rule="evenodd" d="M30.5 -2 30.5 1 22.5 15 19.5 24.5 19.5 34 23 42 26 45 31 47.5 36.5 47.5 38 46.5 40 54 52.5 56 64 56.5 82 55 93.5 50 94 53 88 111 87.5 121 121 121 121 -2z"/><path fill="#0a0a0a" fill-rule="evenodd" d="M31 -2 31 0 22.5 15.5 19.5 27 19.5 32 21 37.5 23.5 42 29 46.5 32 47.5 38.5 46.5 40 51 56 51.5 84 46 96.5 40 105.5 40 99 82 94.5 121 121 121 121 -2z"/><path fill="#0d0d0d" fill-rule="evenodd" d="M121 46.5 119 46.5 115 52 109 67.5 103 94 99 121 121 121zM19.5 29 20.5 36 25 43.5 28.5 46 34.5 47.5 38.5 46 40 49.5 52 49 63 47 83 41 90 37 96 35 114 35.5 121 35 121 -2 31 -2 31 0.5 22 17z"/><path fill="#111111" fill-rule="evenodd" d="M121 74.5 118 75 116 78 110.5 89 106 105.5 103.5 121 121 121zM20 26 20 34 24 42 29.5 46.5 36 47 39 46 40 48.5 51 47.5 60.5 45.5 83.5 37 93.5 32 121 32.5 121 -2 31.5 -2 31.5 0 23 15.5z"/><path fill="#141414" fill-rule="evenodd" d="M121 94.5 118 95 112 105 108.5 115.5 108 121 121 121zM20 27 21 36.5 24.5 43 31 47 35 47 39 46 40 47.5 58 44.5 94 29 110 31 121 30.5 121 -2 31.5 -2 31.5 0.5 22.5 16.5z"/><path fill="#171717" fill-rule="evenodd" d="M121 111 118.5 111 114 118 114 121 121 121zM20 31 21 36 23.5 41.5 29 46 35 47 38 46 40 47 48.5 45.5 58.5 43 91 27 96 27 109 29.5 121 29 121 -2 31.5 -2 31.5 0.5 22 18.5z"/><path fill="#1a1a1a" fill-rule="evenodd" d="M20 33 22.5 40 26 44 31.5 47 36 47 39 45.5 41 46 49 44.5 58.5 41.5 83 28 90.5 25 94 24.5 110 28 121 28 121 -2 31.5 -2 31.5 1 24 14 21.5 20 20 26z"/><path fill="#1d1d1d" fill-rule="evenodd" d="M20 32.5 21.5 37.5 26 44 30.5 46.5 36 47 40 45 46.5 44 59 40 81.5 26 89 23 94 22.5 109 27 121 26.5 121 -2 31.5 -2 31.5 1 25 11.5 21.5 20 20 26z"/><path fill="#202020" fill-rule="evenodd" d="M20 32 23 40 27 44.5 31 46.5 35.5 47 40 44.5 49 43 58.5 39 82 23 88 20.5 94 20.5 108 25.5 121 25.5 121 -2 32 -2 32 0 22 18 20.5 24.5z"/><path fill="#232323" fill-rule="evenodd" d="M20 31.5 22 38 24 41.5 30 46 35 47 59 38 81 21 86 18.5 93.5 18.5 101 22 108.5 24.5 121 24.5 121 -2 32 -2 32 0.5 23 16.5 21 23z"/><path fill="#262626" fill-rule="evenodd" d="M20 31 21.5 37 24 42 28.5 45.5 35 47 43 43 50 41 59 36.5 66 31.5 82 17.5 86 15.5 92.5 16 102 21.5 108 23.5 121 23.5 121 -2 32 -2 32 0.5 22.5 17.5 20.5 25z"/><path fill="#292929" fill-rule="evenodd" d="M20 30 22 38 24.5 42 30 46 34.5 47 39 45 44 42 49 40.5 59.5 35 65.5 30.5 82.5 14 85 12.5 87 12 91 13 100.5 19.5 107 22 112 23 121 22.5 121 -2 32 -2 32 0.5 23 17 21 23.5z"/><path fill="#2c2c2c" fill-rule="evenodd" d="M20.5 33 22.5 39 26 43.5 31.5 46.5 37 46 44 41 49 40 54.5 37 62 32 72.5 21.5 80.5 11.5 84.5 8 87 8 89 9 99 17 106.5 21 111 22 121 22 121 -2 32 -2 32 1 26 11 22 20 20.5 25.5z"/><path fill="#2f2f2f" fill-rule="evenodd" d="M88 -2 88 0.5 90 5.5 95 12 100.5 17 110 21 121 21 121 -2zM24 41 29.5 46 36 46.5 42 43 44 41 48 39.5 58 34 65 27.5 74 16 83 1 83.5 -2 32 -2 32 1 23.5 15.5 21 24 20.5 33 21.5 37z"/><path fill="#323232" fill-rule="evenodd" d="M92 -2 92.5 4 94 7.5 96 11.5 101 16 105 19 110.5 20.5 121 20 121 -2zM78 -2 32 -2 32 1 23.5 15.5 21 24 21 34.5 24 41 27 44 30.5 46 36 46.5 41 43.5 44 40 51 37.5 57.5 33 64 27 72.5 14.5 77.5 3z"/><path fill="#353535" fill-rule="evenodd" d="M94.5 -2 94.5 4.5 95.5 8 98 12 102 16 106.5 18.5 111 20 121 19.5 121 -2zM74 -2 32 -2 32 0 24 15 21 24 21 34 24 41.5 30 46 32 46.5 37 46 41.5 43 45 39 49 38 57 32.5 62.5 27 67 20.5 73 7z"/><path fill="#383838" fill-rule="evenodd" d="M96 -2 96 6 98 10.5 101 14 105 17 110 19 121 18.5 121 -2zM70.5 -2 32 -2 32 0.5 23 16.5 21 24.5 21 34 24.5 42 30 46 32 46.5 37 46 40.5 44 45 38.5 50 36.5 56 32 61.5 26 66.5 17.5 70 4.5z"/><path fill="#3b3b3b" fill-rule="evenodd" d="M97 -2 97 3 98 7.5 99.5 11 103 14.5 106.5 17 112 18.5 121 18 121 -2zM68 -2 32 -2 32 0.5 23.5 16 21 24.5 20.5 32 21 35 23 40 26 43.5 31 46 36.5 46 41 43.5 44.5 38 50.5 35 57.5 29 61.5 24 64.5 18 67 9.5z"/><path fill="#3e3e3e" fill-rule="evenodd" d="M98 -2 99 7.5 101 11 104 14.5 108.5 17 113 18 121 17 121 -2zM65.5 -2 32 -2 32 0.5 23 17.5 21 25 20.5 31 21 35 23 40 26 43.5 32.5 46.5 35 46.5 38.5 45 42.5 41.5 45 37 50 34.5 57 28 59.5 24.5 63.5 15 65 6z"/><path fill="#414141" fill-rule="evenodd" d="M99 -2 99.5 6.5 101 9.5 104 13.5 111 17 121 16.5 121 -2zM63 -2 32 -2 32 0.5 24 15 21 25 20.5 31 21.5 36 26 43 31 46 36.5 46 42 42 44 37 49 34.5 54.5 29 57.5 25 61 16.5 63 7z"/><path fill="#454545" fill-rule="evenodd" d="M100 -2 101 7.5 105.5 13.5 111 16 121 16 121 -2zM61 -2 32 -2 32 1 23.5 16 21 25 21 35 23 39 27 44 33 46.5 38 45.5 42.5 41 43 37 49 33.5 54 28 57.5 22 59.5 15.5z"/><path fill="#484848" fill-rule="evenodd" d="M101 -2 101.5 7 106 13 111.5 15.5 121 15 121 -2zM58.5 -2 32 -2 32 1 23.5 16 21 25.5 21 33 22 37 24 41 28 45 31.5 46 36 46 39 45 42.5 41 43 36 48.5 32.5 54 26 57.5 15z"/><path fill="#4b4b4b" fill-rule="evenodd" d="M102 -2 102 6 103 8.5 106 12 109.5 14 114 15 121 14.5 121 -2zM56 -2 32 -2 32 1 24 15.5 21 26 21 33 22 37 24.5 41.5 29 45 31.5 46 36 46 39 44.5 42.5 40.5 42.5 35 49 31 51.5 27 55 17z"/></g><g filter="url(#pb)"><path fill="#4c4c4c" fill-rule="evenodd" d="M103 -2 103 1 102.5 1 103 6.5 105 10 106.5 12 110 14 112 14.5 117 14.5 118.5 14 121 14 121 -2zM55 -2 32 -2 32 1 24 15.5 22 21 21 26 21 33 22 37.5 24.5 41.5 27 44 29 45 31.5 46 36 46 39 44.5 41.5 42 42.5 40 42.5 37 42 35 47.5 31 50 28 52 24.5 53 20.5 54 15z"/><path fill="#545454" fill-rule="evenodd" d="M105 -2 105 0.5 104.5 2.5 105 6 106.5 9 108.5 11 111 12.5 113 13 116.5 13 118 12.5 121 12.5 121 -2zM48.5 -2 32.5 -2 32.5 0.5 26 11 23 18 21 26.5 21 32.5 21.5 35.5 23 39 25 42 27.5 44 30 45.5 32 46 37 46 40 44 42 41 42 40 42 37 41 35.5 38.5 33 38.5 32 41.5 29 44.5 24.5 47.5 17 48 13.5 48 8 48.5 8zM34.5 32 35 31.5 35.5 32 35 32.5z"/><path fill="#5c5c5c" fill-rule="evenodd" d="M107 -2 107 0 106.5 1.5 106.5 6 108 8.5 110 10.5 111.5 11.5 114 12 116 12 118.5 11 121 11 121 -2zM41 -2 32.5 -2 32.5 0.5 24 16 22 20.5 21 25 21 32 21.5 35 23.5 40 27.5 44 32.5 46 35 46 38.5 45 40.5 43 42 40 42 38.5 41 36 38 34 34.5 34 34 32 35.5 29.5 34.5 27 34.5 25.5 34 25 35 18.5 37 12 37.5 11 39 5 41 1z"/><path fill="#636363" fill-rule="evenodd" d="M108.5 -2 108.5 0 107.5 2.5 107.5 5 109 8 111 10 113 11 117 11 118 10.5 121 10.5 121 -2zM40.5 -2 32.5 -2 32.5 1 26.5 11 23.5 17 21 25 21 27.5 21 28 21 33.5 23 39 24.5 41 27 44 30 45.5 33 46 35 46 38 45 40 43 41.5 40.5 41 37.5 39 35.5 35.5 35 34 36 33 35 33 34 34 33.5 33.5 31.5 34 30 33.5 29 33 27 33 22 34 17 37 9 38 4.5 40.5 0z"/><path fill="#6b6b6b" fill-rule="evenodd" d="M109.5 -2 109.5 0 108.5 2 108.5 6 109 7.5 111.5 10 113 10.5 117 10.5 118 10 121 10 121 -2zM32.5 -2 32.5 1 26 11.5 23 19 21 25.5 21 33 22 37 23.5 39.5 26.5 43 29 45 31.5 46 36 46 38 45 40 43 41 41 41 40 40 37.5 38 36 36 36 35 36 34 37 33 36 33 35.5 33 32.5 31.5 28 31.5 22 33.5 15 36 10 37.5 4 39.5 0.5 39.5 -2z"/><path fill="#737373" fill-rule="evenodd" d="M110 -2 110 0 109 3 109 5 110 7.5 111.5 9 114 10 116.5 10 118.5 9 121 9 121 -2zM33 -2 33 0 29.5 6.5 25 13.5 23 18 21 26 21 33 23 38 26 42.5 30 45 32 46 36 46 38 45 40 43 41 41 41 40 40 38.5 38.5 37 36 37 35 37.5 34 37.5 33 36.5 30.5 28 30.5 22 31 20 31 18.5 32 17.5 32.5 15 35.5 8.5 37 3 38.5 1 38.5 -2z"/><path fill="#7a7a7a" fill-rule="evenodd" d="M111 -2 111 0 109.5 2.5 109.5 5.5 110 7 112 9 114 10 117 9.5 119 8.5 121 8.5 121 -2zM38 -2 33 -2 33 0.5 24 16 22 21.5 21 26.5 21 32 22.5 37 24 40 27.5 44 32 46 36.5 45.5 38.5 44.5 40 43 40.5 42 40.5 40 39 38 36.5 37.5 34.5 38.5 32.5 36.5 31 33 31 31 30 28 30 22 31 18 36 6 36.5 3.5 38 1z"/><path fill="#828282" fill-rule="evenodd" d="M111 -2 111 0.5 110 3 110 5 111 8 112.5 9 114.5 9.5 117 9 118.5 8 121 8 121 -2zM38 -2 33 -2 33 0.5 25.5 13 24 17 22 22 21 27 21.5 33.5 23.5 39 25 41 28 44 32.5 46 35 46 38 45 40 43 40.5 41.5 40.5 40.5 39 38.5 36 38 34.5 39 32.5 37 31 35 29 28 29 23 30.5 17 34.5 8.5 35 7 36 5 36 4 38 0.5z"/><path fill="#8a8a8a" fill-rule="evenodd" d="M112 -2 112 0 110 3 110 5 111 7 112.5 8.5 114.5 9 116 9 118.5 8 121 8 121 -2zM37.5 -2 33 -2 33 1 26.5 11.5 23.5 18 22 22 21.5 25.5 21.5 28 21 28 22 35 24.5 40.5 26.5 43 29 44.5 33 46 36 45.5 38 44.5 40 42.5 40 40 39 39 36 38.5 35 39.5 34 39.5 30.5 35.5 29.5 33 28.5 27.5 28.5 25 29 24.5 29 22 29.5 19 31 14.5 35.5 5 36 3.5 37.5 1z"/><path fill="#919191" fill-rule="evenodd" d="M112 -2 112 0.5 111 1.5 110.5 3 110.5 5 111.5 7 113 8.5 114.5 9 117 8.5 118 7.5 121 7.5 121 1 118.5 1 118 0.5 118 -2zM33 -2 33 1 29 8 26 12 24 17 22.5 21 21.5 26 21.5 33 23.5 39 25 41 27.5 43.5 32 45.5 36 45.5 37.5 45 40 43 40 40.5 38.5 39 36 39 35 40 34 40 32 38 29.5 34.5 28 28.5 28 24 29 19 31 13.5 37 1 37 -2z"/><path fill="#999999" fill-rule="evenodd" d="M113 -2 113 0 111 3 111 5 112 7 114 8.5 116 8.5 119 7 121 7 121 1.5 118 1 117.5 0 117.5 -2zM33 -2 33 1 27 11 23 19 21.5 26.5 21.5 32.5 22.5 36.5 24 40 27 43 31 45 35.5 45.5 39 43.5 40 43 40 41 38 39 36 39 35 40 34 40 30 36 28.5 33 28.5 31 28 29 28 23.5 29 19 30 15 35 5 35.5 3 37 0 37 -2z"/><path fill="#a1a1a1" fill-rule="evenodd" d="M113 -2 113 0.5 111 3 111.5 6 114 8 116 8 117 8 118.5 6.5 121 6.5 121 2 118 1.5 117 0.5 117 -2zM33 -2 33 0.5 26 12.5 23.5 18.5 22 25 21.5 32 23 38 25.5 41.5 28 44 30 45 32.5 45.5 35 45.5 38 44.5 40 42.5 40 40.5 38 39 37 39 35.5 40.5 34 40.5 32 39 30 37 28.5 34 27.5 29.5 27.5 23.5 28 20 30 14.5 37 0.5 37 -2z"/><path fill="#a8a8a8" fill-rule="evenodd" d="M114 -2 114 0 111.5 3 112 6 114 8 116.5 8 118.5 6 121 6 121 2 118.5 2 116.5 0 116.5 -2zM36.5 -2 33 -2 33 1 27 11.5 24 18 22 23.5 22 28 21.5 28 22 35 24 39.5 28 43.5 29.5 44.5 33 45.5 35 45.5 38 44 40 42.5 40 41 38.5 39.5 37 39.5 35.5 41 34 41 30 37.5 28 34.5 27 30 27 23.5 29 16 36.5 1z"/><path fill="#b0b0b0" fill-rule="evenodd" d="M111.5 4 112 6 113 7 115 8 117 7 119 5.5 121 5.5 121 3 119 3 117 1 116 0.5 114.5 0.5 113 1 112 2zM33 -2 33 1 26 13 23 20 22 26 22 32.5 23.5 38 25.5 41 28.5 44 32 45 36 45 37.5 44.5 39.5 43 40 42 39.5 40.5 39 40 37.5 39.5 35.5 41 34 41 32 40 29 37 27.5 34 27 30.5 27 27.5 26.5 27 27 26.5 27 23 28.5 17 36.5 0.5 36.5 -2z"/><path fill="#b8b8b8" fill-rule="evenodd" d="M112 3.5 112 6 113.5 7 114.5 7.5 117 7 119 5 121 5 121 3.5 119 3.5 117 1.5 116 1 114.5 1 113 1.5 112 2.5zM33.5 -2 33 1 27 12 24 17.5 22 25 22 32 23 36 25 40 28 43.5 30 44.5 32.5 45 35 45 38 44 40 42 39.5 41 38 40 37 40 36 41.5 34 41.5 30.5 39.5 27.5 35.5 26 29.5 26.5 23 28.5 16 34 5 35 3 36 1 36 -2z"/><path fill="#bfbfbf" fill-rule="evenodd" d="M114 1 112.5 2.5 112 5 113.5 7 116 7 118 6 118 3 117 1.5zM36 -2 33.5 -2 33.5 0.5 30 7 27.5 11 24.5 17 24.5 18 24 19 22.5 23.5 22 28 22 28.5 22.5 35 24.5 39.5 28.5 43.5 30.5 44.5 33 45 36 45 38.5 43.5 39.5 42.5 39.5 41 38.5 40 37 40 36 42 33.5 42 30.5 40 28 38 26 33 26 24 28 16 32 9 36 0z"/><path fill="#c7c7c7" fill-rule="evenodd" d="M114 1.5 112.5 3 112.5 5 114 7 116 7 118 5 118 3 116 1.5zM33.5 -2 33.5 1 26.5 13 24 19 23.5 22 23 23 22.5 24.5 22 31 22.5 31.5 23 35.5 23.5 36 23.5 37 25.5 40.5 28 43 31 44.5 35 45 36.5 44.5 38 43.5 39.5 42 39.5 41 39 40.5 37 40.5 37 42 36 42.5 33.5 42.5 30 41 28 38.5 26 35 25 29.5 25 29 25 24 27 17.5 36 0.5 36 -2z"/><path fill="#cfcfcf" fill-rule="evenodd" d="M30.5 44 31.5 44 31.5 44zM37 41 37 42 38 42.5 39.5 42 39 41zM23 33 23 35 23 33zM23 23 23 25.5 23 25.5zM115 1.5 114 2 113 3 112.5 4.5 113 5.5 114 6.5 115.5 7 116.5 6.5 117.5 5.5 118 4 117.5 3 116.5 2zM35.5 -2 33.5 -2 33.5 1 25.5 15.5 25 17 25 18.5 24 20 24 21.5 24.5 20 26 18.5 26.5 17 32 8 34 3.5 34 3 35.5 1z"/><path fill="#d6d6d6" fill-rule="evenodd" d="M37.5 41 38 42 39 42 39 41zM114.5 2 113 3 113 5 114 6 116 6.5 117 5.5 117.5 3.5 116.5 2zM35 -2 34 -2 34 1 30.5 7 29 9.5 29 10 28 11.5 28 12.5 30 10 32.5 6 35 0.5z"/><path fill="#dedede" fill-rule="evenodd" d="M114.5 2 113.5 3 113 5 114 6 116 6 117 5.5 117 3.5 116.5 2.5zM34.5 -2 34 -2 34 2 33 3 33 4 32 4.5 32 5.5 34 1.5z"/><path fill="#e5e5e5" fill-rule="evenodd" d="M114 3 113.5 3.5 114 5.5 114.5 6 116.5 5.5 117 5 116.5 3 116 2.5z"/><path fill="#ededed" fill-rule="evenodd" d="M114.5 3 114 3.5 114 5 114.5 5.5 116 5.5 116.5 5 116.5 3.5 116 3z"/></g></g></svg>
<svg x="365" y="2" width="119.9" height="119.2" viewBox="0 0 118.6 118.6" preserveAspectRatio="none" overflow="hidden"><g filter="url(#mag)"><rect x="-6" y="-6" width="131" height="131" fill="#101010"/><g filter="url(#pb2)"><path fill="#131313" fill-rule="evenodd" d="M-2 -2 -2 63.5 0 63.5 7 66.5 19 70 26.5 71 35 70.5 46 68 54 64.5 61.5 59 68 52.5 71.5 46 73.5 40.5 75 33 75 24.5 72.5 13 70.5 8 66 0.5 66 -2z"/><path fill="#161616" fill-rule="evenodd" d="M-2 -2 -2 63 1 63 8 66.5 19.5 69.5 27 70.5 34 70 46 67.5 54 64 61.5 59 66.5 54 69.5 49.5 73 42 74.5 34.5 75 28 72.5 14 69 6 65.5 0.5 65.5 -2z"/><path fill="#191919" fill-rule="evenodd" d="M-2 -2 -2 63 1 63 7 66 21 69.5 26 70 35 70 45.5 67.5 53 64.5 60.5 59.5 67 53 71.5 45 74.5 33.5 74.5 24 72.5 14 68.5 5 65 0 65 -2z"/><path fill="#1c1c1c" fill-rule="evenodd" d="M-2 -2 -2 62.5 0.5 62.5 7 65.5 20 69 25 70 36 69.5 47 67 53.5 64 61.5 58.5 67.5 52 70.5 47 73 40 74.5 32.5 74.5 25 72.5 14.5 68 5 65 0.5 65 -2zM25 7.5 24 14.5 21 16 22.5 18 22 18.5 16 12.5 19 10z"/><path fill="#1f1f1f" fill-rule="evenodd" d="M-2 5 -2 62.5 1 62.5 10 66.5 26 70 35.5 69.5 48 66.5 54.5 63.5 63.5 56.5 69 49.5 73.5 38 74.5 26 72.5 15 69 7 65 0.5 65 -2 22 -2 22 1 24.5 6 27.5 6 28 7 27 22.5 24.5 22 10 8 3 5z"/><path fill="#222222" fill-rule="evenodd" d="M65 -2 25 -2 25 1 27 5 29 4 31 5 31 16.5 29 24 24 22 17 16 15 15.5 6 11 -2 9 -2 62 0.5 62 7 65 18 68.5 30.5 70 40 68.5 48.5 66 55 63 61 58.5 66.5 53 70 47.5 72.5 41.5 74 34 74 23.5 72.5 15 68 5 65 0z"/><path fill="#252525" fill-rule="evenodd" d="M65 -2 28 -2 29 3 30 3.5 31.5 3 33 4 33 16 32.5 22 31 25.5 27 24 25 22.5 12.5 19 2.5 14 -2 13.5 -2 62 1 62 7 65 19 68.5 25 69.5 34 69.5 51 65 61.5 58 69 49 72 42.5 74 33 74 24 72.5 15.5 70.5 10 65 0z"/><path fill="#282828" fill-rule="evenodd" d="M65 -2 30.5 -2 31 2 32 2.5 34 2 35 3 34.5 21 33.5 24 31.5 26 26 24 21.5 24.5 18.5 24 2 16.5 -2 16 -2 62 0 62 7.5 65 18 68 26 69.5 33 69.5 50 65.5 56 62 62.5 57 67 52.5 70.5 46.5 72.5 41 74 33 74 24.5 73 18 71 11 65 0.5z"/><path fill="#2b2b2b" fill-rule="evenodd" d="M65 -2 32.5 -2 33 1.5 36 1 37 2 37 9 36 21 34 25.5 32.5 27 22 27 18 26.5 11 24 3.5 20 -2 19 -2 62 0.5 62 7 65 18 68 32 69.5 48 66 54 63.5 60.5 59 69 49.5 72.5 41 74 32 74 25 72.5 16 70.5 10 65 0.5z"/><path fill="#2f2f2f" fill-rule="evenodd" d="M65 -2 38 -2 39 8 38 21 37 24 33.5 28 29 30 17 29 9 26 2 22 -2 22 -2 62 1 62 7 65 18.5 68 30 69.5 40 68 49.5 65.5 55 63 61 58 67.5 51.5 70.5 46 72.5 41 74 31.5 74 23 72 15 69 7.5 65 1zM34.5 -2 34.5 1 37 1 37 -2z"/><path fill="#323232" fill-rule="evenodd" d="M64.5 -2 39 -2 40 18.5 37 27.5 34.5 30.5 31 31 29 32.5 19 32 9.5 28.5 2 24.5 -2 24 -2 61.5 0 61.5 9 65.5 17.5 68 25 69 34 69 50 65 56 62 61.5 58 67 52 70.5 46 73 38 74 31 74 23 72.5 16 70.5 10.5 64.5 0zM36 -2 36 0 36.5 0 36.5 -2z"/><path fill="#353535" fill-rule="evenodd" d="M64.5 -2 40 -2 41 18.5 39 27.5 36.5 32 28 34 20 33.5 12 31 1 25.5 -2 25.5 -2 61.5 0.5 61.5 8.5 65 18 68 26 69 33 69 51 65 62 57.5 68 51 71 44.5 73 38 74 30 72 15 68 6 64.5 0z"/><path fill="#383838" fill-rule="evenodd" d="M64.5 -2 41 -2 42 19 39 31.5 37 33 29 35.5 21.5 35 13.5 33 0.5 27 -2 27 -2 61.5 1 61.5 7 64.5 15 67 26.5 69 32.5 69 50 65 56 62 62.5 57 67 52 70.5 46 74 33.5 74 24 72.5 16.5 70 10 64.5 0.5z"/><path fill="#3b3b3b" fill-rule="evenodd" d="M64.5 -2 42 -2 43.5 17 40 32 37 35 30 37 21 36.5 12 34 1 28.5 -2 28.5 -2 61.5 1 61.5 9 65 17 67.5 32 69 49 65.5 54.5 63 60.5 58.5 66.5 52.5 69 48.5 72.5 40 74 33 74 24 72 15.5 69 8 64.5 0.5z"/><path fill="#3e3e3e" fill-rule="evenodd" d="M64.5 -2 43 -2 44.5 17.5 41.5 33 38 36 30.5 38 20 38 10 35 0.5 30 -2 30 -2 61 0 61 8 65 17 67.5 30.5 69 38.5 68 49.5 65 55.5 62 61 58 66 53 69.5 48 72 41 74 33 74 24.5 72 15.5 68 5.5 64.5 0.5z"/><path fill="#414141" fill-rule="evenodd" d="M64.5 -2 44 -2 45.5 9.5 44.5 27 43 33 40 36.5 31 39.5 22 39.5 13 37.5 1 31.5 -2 31.5 -2 61 0.5 61 7.5 64.5 17.5 67.5 25 69 34 69 49.5 65 55 62.5 61 58 67 51.5 71 45 74 32 74 25 72 16 70 10 64.5 0.5z"/><path fill="#444444" fill-rule="evenodd" d="M64.5 -2 45 -2 47 14 46 28 44 35 40 38 30 41 21 41 12 38.5 1 33 -2 33 -2 61 0.5 61 8.5 65 18 67.5 25.5 69 33.5 69 50 65 56 62 61.5 57.5 66 53 70.5 45.5 73 37 74 25.5 72 16 68.5 7 64.5 1z"/><path fill="#474747" fill-rule="evenodd" d="M64 -2 46 -2 47.5 11 47 28 45 35.5 40.5 39.5 30 42.5 22 42 12 40 0.5 34 -2 34 -2 61 1 61 8 64.5 19.5 68 33 69 51 64.5 62 57 67 52 70 46 72 41 74 31.5 73.5 23 72 15 69 8 64 0z"/><path fill="#4a4a4a" fill-rule="evenodd" d="M64 -2 47 -2 48.5 11.5 48.5 27.5 46 36 41 40.5 31 43.5 23 43.5 13.5 41.5 0.5 35.5 -2 35.5 -2 61 1 61 9 65 18 67.5 32.5 69 49 65 55 62 62 57 66.5 52 70 46 73 38 74 31 73.5 23 72 16 70 10.5 64 0z"/></g><g filter="url(#pb)"><path fill="#4c4c4c" fill-rule="evenodd" d="M64 -2 47.5 -2 47.5 1.5 48 2 48.5 8 49 8 49 10.5 49 11 49.5 27 48 34.5 47 37 44 39.5 42 41 37.5 43 31 44.5 24 44.5 23.5 44 21 44 15 43 6 39.5 0.5 36.5 -2 36.5 -2 61 1 61 2 62 2.5 62 7 64 17 67 22 68 24 68 24 68.5 32 69 32.5 68.5 35 68.5 46 66 51.5 64 56 61.5 63 56 67.5 51 71 44.5 73 36.5 73.5 31 74 30.5 73.5 23 72 16 70 10.5 68 6 64 0z"/><path fill="#545454" fill-rule="evenodd" d="M64 -2 49.5 -2 49.5 1.5 51 6.5 51 8 51.5 10 51.5 13.5 52 14 51.5 15 52 15.5 52 29 50 37 49 39 47 41 42.5 44 39 45.5 30 47.5 25 47.5 25 47 20 47 13 45 7 43 0.5 39.5 -2 39.5 -2 61 0.5 61 7.5 64 17.5 67 22.5 68 24.5 68 25 68.5 34.5 68.5 41.5 67 50.5 64.5 55.5 62 61 58 66 52.5 69 48.5 72 40 73.5 33.5 73.5 24 73 23.5 73 21 72 18 72 16.5 69 8.5 64 0.5z"/><path fill="#5c5c5c" fill-rule="evenodd" d="M64 -2 51 -2 51 0.5 52 2 52 3.5 54 12 55 27.5 55 28 55 30.5 54 32 54 33.5 52.5 39 51.5 40.5 48.5 43.5 45 46 40 48 31.5 50 25 50 24.5 50 22 50 15 48.5 7 45.5 0.5 42 -2 42 -2 61 1 61 9 64.5 19.5 67.5 26 68 26 68.5 33.5 68.5 34 68 36 68 42.5 67 50 64.5 55 62 61.5 57 67 51.5 70.5 45 72 41 73.5 33 73.5 24.5 73 24 73 22 72 17 70 11 68 6 64 1z"/><path fill="#636363" fill-rule="evenodd" d="M64 -2 53 -2 53 0.5 55 8 56 14 56.5 16 56.5 19 57 22 57.5 27.5 57 28 57 30.5 56 35.5 54.5 40 53 42 50 45 45 49 41 50 31 52.5 25 52.5 25 52 20 52 14 50.5 7.5 48 1 45 -2 45 -2 60.5 0.5 60.5 4 62.5 9 64.5 18.5 67 24 68 24 68 27 68 27.5 68.5 32 68.5 32.5 68 35.5 68 42 66.5 43.5 66.5 51 64 57 60.5 62.5 56 66.5 52 70 45.5 72 40 72 38.5 73 35 73 32 73.5 32 73 22 72 16 69 8 64 0z"/><path fill="#6b6b6b" fill-rule="evenodd" d="M64 -2 54.5 -2 54.5 1 56.5 7 59 17 59 20 59.5 22.5 59.5 31 57.5 39 56 42.5 52 46.5 49 49 45 51 40 53 30.5 55 23 54.5 23 54 21 54 16 53 8 50.5 0.5 47 -2 47 -2 60.5 1 60.5 7 63.5 17.5 67 24.5 68 25 68 34.5 68 43 66.5 50 64.5 54.5 62 60.5 58 66 52 69 47.5 72 39.5 73 34.5 73 31 73.5 31 73 23 72 16 70 10.5 68 6.5 64 0.5z"/><path fill="#737373" fill-rule="evenodd" d="M64 -2 55 -2 55 0 58.5 8.5 60.5 17 60.5 19 61.5 24 61.5 30 61 30.5 60.5 36 59 40 56.5 45 53 48 50 50.5 46 53 41 54.5 32 56.5 25.5 56.5 25 56 22.5 56 17 55 9 53 1 49 -2 49 -2 60 0 60 9 64 19.5 67 25.5 68 26 68 34 68 44 66 51 64 55 62 61 57 65.5 53 68 49 70 45 72 40.5 73 34 73 23 72 16.5 69 9 64 0.5z"/><path fill="#7a7a7a" fill-rule="evenodd" d="M64 -2 56 -2 56 1 59 7 62 16 62 17.5 62.5 19 62.5 21 63 23.5 63 31 62.5 33 62.5 35 60.5 41.5 58.5 45 53.5 50 49 53 44 55.5 36 57.5 29 58 28.5 58 23.5 58 20 57 18 57 8.5 54 0.5 50 -2 50 -2 60 0.5 60 9 64 18.5 67 24 67.5 24 68 26.5 68 27 68 33 68 33 68 35.5 68 44 66 50 64 56 61 62 56.5 66.5 51.5 69.5 46.5 72 40 73 33.5 73 24 71.5 15.5 70 11 67.5 6 64 1z"/><path fill="#828282" fill-rule="evenodd" d="M63.5 -2 56.5 -2 56.5 1 59.5 7 63 16.5 64 21.5 64 23.5 64 24 64 31 63 38 60 45 54 51 50.5 53.5 45 56 35 58.5 26 59 26 58.5 23 58.5 21 58 19.5 58 14 56.5 7 54 0.5 50.5 -2 50.5 -2 60 1 60 7 63 17.5 66.5 22.5 67.5 24.5 67.5 25 68 31.5 68 32 68 35 68 40.5 67 49 64.5 55 61.5 63 55 66 52 70 45 72 40 73 33 73 24.5 73 24 73 22 72 17 69 9.5 63.5 0z"/><path fill="#8a8a8a" fill-rule="evenodd" d="M63.5 -2 57 -2 57 1 60.5 8 63.5 16.5 64.5 21.5 64.5 24 65 24 65 31 64.5 31 64 35 62 42 59.5 46.5 55 51 50 54.5 47 56 40 58 33 59.5 26 59.5 26 59 23.5 59 18 58 9 55.5 0.5 51 -2 51 -2 60 0.5 60 7 63 16.5 66 23 67.5 25 67.5 25.5 68 34 68 44.5 66 50 64 54.5 62 61 57 66 52 70 45.5 72.5 37 73 32 73 32 73 22 71 15 70 11 67 6 63.5 0.5z"/><path fill="#919191" fill-rule="evenodd" d="M63.5 -2 57.5 -2 57.5 1 60 5 63.5 14 65.5 24.5 65.5 31 65 31 64.5 37 63 42 60.5 46 56 51 52 54 47 57 37 59.5 32.5 60 32 60 27.5 60 27 60 24 60 24 59.5 18.5 59 8 55.5 2 53 1 52 -2 52 -2 60 1 60 7.5 63 18.5 66.5 24 67.5 26 67.5 26.5 68 33.5 68 44 66 49.5 64 55 61.5 61 57 66.5 51 70 44.5 72.5 36.5 73 31 73 31 73 23 71.5 16 70 12 68 7 63.5 0.5z"/><path fill="#999999" fill-rule="evenodd" d="M63.5 -2 58 -2 58 1 61 7 64 15 66 22.5 66 33 64.5 39 62 45 60.5 47 56 52 52 55 46.5 57.5 44.5 58 42 59 33.5 60.5 26 60.5 25.5 60 23 60 18 59 9 56.5 0.5 52 -2 52 -2 59.5 0 59.5 8 63 17.5 66 24.5 67.5 32.5 68 33 67.5 35.5 67.5 42 66 50 64 54 62 62 56 66 51.5 70 45 72 39 73 34 73 23 71.5 16.5 70 11.5 67 6 63.5 1z"/><path fill="#a1a1a1" fill-rule="evenodd" d="M63 -2 58 -2 58 1 62 8 65 17 66 22 66 25 66.5 25.5 66 33 65 38 62 45.5 60.5 48 56.5 52 50.5 56 47 58 39.5 60 34 61 31 61 31 61 23 60.5 14 58.5 6 55.5 1 53 -2 52.5 -2 59.5 0.5 59.5 8 63 18 66 23 67 25 67 25.5 67.5 35 67.5 42 66 49 64 56 60.5 60 57.5 66 52 68 49 70 45 71.5 40 73 33.5 73 24 71.5 17 69 9.5 63 0z"/><path fill="#a8a8a8" fill-rule="evenodd" d="M63 -2 58.5 -2 58.5 1 62 8 65 16 66.5 22 67 31 66.5 31 66.5 33.5 66 37 64 42 61.5 47 58 51 54 54 48 58 44 59 34.5 61 28.5 61.5 28 61 25 61 24.5 61 22.5 61 17.5 60 10 57.5 1 53 -2 53 -2 59.5 1 59.5 8.5 63 18.5 66 24 67 26 67 26.5 67.5 34 67.5 34 67 36 67 41.5 66 49 64 55.5 61 61 57 65 52.5 68 48 71.5 40 73 33 73 24.5 71 16 69.5 11 67 6.5 63 0.5z"/><path fill="#b0b0b0" fill-rule="evenodd" d="M63 -2 59 -2 59 0.5 62 6 64.5 12.5 66.5 20 67 24.5 67 25 67 34 66 37 66 38.5 63 45 61 48 57 52.5 52 56 47 58.5 40 60.5 34.5 61.5 32 61.5 32 62 25 61.5 15 59.5 9 57.5 1 53.5 -2 53.5 -2 59 0.5 59 9 63 17.5 66 24.5 67 33 67.5 33 67 35.5 67 42.5 66 49.5 64 55 61 61.5 56 66 51 70 44.5 72 38 72.5 35 72.5 32 73 32 73 25.5 72.5 25 72.5 22.5 71 16 70 12 67.5 7 63 1z"/><path fill="#b8b8b8" fill-rule="evenodd" d="M63 -2 59 -2 59 0 63 7.5 66 15.5 67 22 67 24 67.5 24.5 67.5 31 67 31.5 67 36 65 42.5 62 48 58 52 52.5 56 47 59 38.5 61 32.5 62 32 62 24.5 62 16 60 8 57.5 0.5 54 -2 54 -2 59 1 59 9 63 19.5 66 25 67 25.5 67 35 67 35 67 37 67 42 66 49 64 55 61 60 57 65.5 52 69.5 45 72 38 72 36 72.5 34 72.5 30.5 73 30 72.5 23 70.5 14 67 7 63 0.5z"/><path fill="#bfbfbf" fill-rule="evenodd" d="M63 -2 60 -2 60 0.5 63.5 8 66 14 68 24 68 32 66.5 39 64 45.5 62 48.5 57 53.5 52 57 47.5 59 43 60.5 33 62.5 26 62.5 26 62 21.5 62 18 61 17 61 9 58.5 1 54.5 -2 54.5 -2 59 0.5 59 8 62.5 19 66 24 67 26.5 67 27 67 34 67 34 67 36 67 41.5 66 50 63.5 55.5 60.5 61 56.5 65 52 67.5 49 71 41 72.5 33.5 72.5 24 71 17 68.5 9.5 66 5 63 1z"/><path fill="#c7c7c7" fill-rule="evenodd" d="M62.5 -2 61 -2 61 1 65 10 66.5 15 68 23 68.5 29 68 29.5 68 33 68 33 67.5 37 65.5 43 62 49 57.5 53.5 52.5 57 48 59.5 41 61.5 34 63 25 63 25 62.5 23 62.5 17.5 61.5 8 58.5 0.5 55 -2 55 -2 58.5 1 59 2 59.5 7 62 15.5 65 23 66.5 31.5 67 32 67 35.5 67 42.5 65.5 49.5 63.5 56 60 62 55.5 66 51 68.5 47 71.5 38.5 71.5 37 72.5 33 72.5 24.5 70.5 15 68.5 10 66.5 6 62.5 1z"/><path fill="#cfcfcf" fill-rule="evenodd" d="M65 4.5 64 3 64.5 4.5 64 6.5 67 14 69 24.5 68.5 34 66.5 42 64 47 63 49 57.5 54 51 58.5 46.5 60.5 37 63 35 63 32.5 63.5 27 63.5 26.5 63 23.5 63 19.5 62 18 62 10.5 60 1.5 56.5 1 56 -2 56 -2 58 1 58.5 2 59 9 62.5 19 65.5 24 66.5 27 66.5 27 67 34 67 34 66.5 36.5 66.5 40 65.5 42 65.5 49 63.5 54.5 61 60.5 56.5 65 52 68.5 46.5 71.5 38 71.5 36 72.5 31.5 72.5 26 71.5 21 71.5 19 68.5 10z"/><path fill="#d6d6d6" fill-rule="evenodd" d="M68 10 67.5 10 67.5 11 67 12 67 12.5 67.5 13.5 67.5 16 69 22.5 69 34 67 42 65 46 62 50.5 57 55 53 58 49 60 43 62 40 62.5 37 63.5 35 63.5 33 64 30.5 64 30 64.5 27 64.5 25 64 23 64 21 64.5 19 64.5 17.5 64 15 64 15.5 64 18 64 19 65 21 65 24 66 26.5 66 27 66.5 35 66.5 39 65.5 41 65.5 44 64.5 46.5 64 47.5 63.5 48.5 63.5 52 62 57 59 63.5 53.5 67.5 48 67.5 47.5 69 45 69.5 43 70 42 70.5 40 71 39 71.5 35 72 33 72 24 71.5 22 71.5 20 71 18 70.5 17 70 15z"/><path fill="#dedede" fill-rule="evenodd" d="M40 65 41 65 40 65zM70 15 69.5 17 70.5 18.5 70.5 21.5 71.5 25 71.5 32.5 71 34 70.5 38.5 70 39 69.5 42 68.5 43 68.5 44.5 68 45 67.5 46.5 64.5 51 60 55.5 56 59 53 60.5 52 61 51.5 61.5 50.5 61.5 49 62.5 48 62.5 46 63.5 43.5 64 43.5 64 45.5 64 46.5 63 49 63 50 62 51 62 52 61 53 61 55.5 59 56 59 63 53.5 67 48 67 47 68 46.5 68 45 69 44 69 42.5 70 41.5 70 39 71 38 71 34 72 31.5 72 26 71 23.5 71 19 70 18 70 15.5z"/></g></g></svg>
<circle cx="115.2" cy="7.5" r="2.8" fill="#f0101c"/>
<text transform="translate(5.3 13.6) scale(1 1.15)" font-size="12.6" fill="#fff">a</text>
<circle cx="235.9" cy="7.9" r="2.8" fill="#f0101c"/>
<text transform="translate(126.1 13.6) scale(1 1.15)" font-size="12.6" fill="#fff">b</text>
<circle cx="358.1" cy="6.8" r="2.8" fill="#f0101c"/>
<text transform="translate(246.70000000000002 13.6) scale(1 1.15)" font-size="12.6" fill="#fff">c</text>
<circle cx="479.9" cy="6.9" r="2.8" fill="#f0101c"/>
<text transform="translate(368.3 13.6) scale(1 1.15)" font-size="12.6" fill="#fff">d</text>
<defs><linearGradient id="cbg" x1="0" y1="0" x2="0" y2="1"><stop offset="0.0000" stop-color="#fcfdbf"/><stop offset="0.0625" stop-color="#fde2a3"/><stop offset="0.1250" stop-color="#fec488"/><stop offset="0.1875" stop-color="#fea772"/><stop offset="0.2500" stop-color="#fc8961"/><stop offset="0.3125" stop-color="#f56b5c"/><stop offset="0.3750" stop-color="#e75263"/><stop offset="0.4375" stop-color="#d0416f"/><stop offset="0.5000" stop-color="#b73779"/><stop offset="0.5625" stop-color="#9c2e7f"/><stop offset="0.6250" stop-color="#832681"/><stop offset="0.6875" stop-color="#6a1c81"/><stop offset="0.7500" stop-color="#51127c"/><stop offset="0.8125" stop-color="#36106b"/><stop offset="0.8750" stop-color="#1d1147"/><stop offset="0.9375" stop-color="#0a0822"/><stop offset="1.0000" stop-color="#000004"/></linearGradient></defs>
<rect x="486.5" y="2" width="5.7" height="118.7" fill="url(#cbg)"/>
<text transform="translate(495.2 17.2) scale(1 1.15)" font-size="13" fill="#111">20</text>
<text transform="translate(493.6 101.2) scale(1 1.15)" font-size="13" fill="#111">-60</text>
<text transform="translate(516.7 52.1) rotate(-90) scale(1.03 1)" font-size="12.1" fill="#111" text-anchor="middle">V (mV)</text>
<path d="M162.9 42.3Q163.2 40.6 164.6 40.9A5.6 5.6 0 0 1 168.9 49.2A1.15 1.15 0 1 1 167.1 50.8A1.15 1.15 0 1 1 168.9 49.2A3.7 3.7 0 0 1 173.4 54.2A1.15 1.15 0 1 1 171.6 55.8A1.15 1.15 0 1 1 173.4 54.2A3.9 3.9 0 0 1 179.7 59.0M285.6 42.6Q285.9 40 287.6 40.4A6 6 0 0 1 291.5 49.1A1.15 1.15 0 1 1 289.9 50.9A1.15 1.15 0 1 1 291.5 49.1A3.8 3.8 0 0 1 296.6 54.6A1.15 1.15 0 1 1 295.0 56.4A1.15 1.15 0 1 1 296.6 54.6A3.8 3.8 0 0 1 302.3 58.8A1.15 1.15 0 1 1 300.7 60.6A1.15 1.15 0 1 1 302.3 58.8A3.5 3.5 0 0 1 308.3 61.4M411.0 6.4A2.9 2.9 0 0 1 411.3 11.9A1.15 1.15 0 1 1 409.1 11.9A1.15 1.15 0 1 1 411.3 11.9A4.5 4.5 0 0 1 415.3 19.8A1.15 1.15 0 1 1 413.1 19.8A1.15 1.15 0 1 1 415.3 19.8A4.1 4.1 0 0 1 413.0 27.7A1.15 1.15 0 1 1 410.8 27.7A1.15 1.15 0 1 1 413.0 27.7A2.6 2.6 0 0 1 414.6 30.8L414.6 38.2A2.6 2.6 0 0 1 412.65 41.6A1.15 1.15 0 1 1 410.4 41.6A1.15 1.15 0 1 1 412.6 41.6A4.5 4.5 0 0 1 415.8 49.5A1.15 1.15 0 1 1 413.8 50.5A1.15 1.15 0 1 1 415.8 49.5A3.4 3.4 0 0 1 420.7 53.9A1.15 1.15 0 1 1 419.3 55.7A1.15 1.15 0 1 1 420.7 53.9A3.8 3.8 0 0 1 426.7 58.5A1.15 1.15 0 1 1 425.3 60.3A1.15 1.15 0 1 1 426.7 58.5A3.3 3.3 0 0 1 432.4 61.2" fill="none" stroke="#f6f2ff" stroke-width="1.25" stroke-linejoin="round" stroke-linecap="round"/>
<circle cx="64.2" cy="59" r="2.4" fill="none" stroke="#fff" stroke-width="1.35"/>
<path d="M86.9 115.7H110.6" stroke="#fff" stroke-width="1.5"/>
<text transform="translate(79.0 112.6) scale(1 1.1)" font-size="13.3" fill="#fff">5 mm</text>
<g id="pe">
<rect x="376.3" y="132.4" width="87.5" height="115.8" fill="#c9c9c9" stroke="#555" stroke-width="0.8" stroke-dasharray="2.6 1.6"/>
<path d="M59.5 233.2H177.4V160.0H186.2V233.2H196.8V160.0H206.0V233.2H218.2V160.0H227.4V233.2H240.0V160.0H249.0V233.2H261.6V160.0H270.7V233.2H283.6V160.0H292.9V233.2H305.4V160.0H314.9V233.2H327.4V160.0H336.7V233.2H349.8V160.0H358.7V233.2H463.8" fill="none" stroke="#3d8ae6" stroke-width="1.1" stroke-linejoin="miter"/>
<path d="M59.80 231.30 L62.40 231.30 L63.20 219.30 L63.70 154.50 L63.95 167.28 L64.20 177.83 L64.45 186.55 L64.70 193.76 L64.95 199.73 L65.20 204.68 L65.45 208.79 L65.70 212.21 L65.95 215.06 L66.20 217.44 L66.45 219.43 L66.70 221.10 L66.95 222.50 L67.20 223.68 L67.45 224.68 L67.70 225.53 L67.95 226.25 L68.20 226.86 L68.45 227.39 L68.70 227.84 L68.95 228.23 L69.20 228.56 L69.45 228.85 L69.70 229.11 L69.95 229.33 L70.20 229.53 L70.45 229.70 L70.70 229.85 L70.95 229.98 L71.20 230.10 L71.45 230.21 L71.70 230.31 L71.95 230.39 L72.20 230.47 L72.45 230.54 L72.70 230.60 L72.95 230.66 L73.20 230.71 L73.45 230.76 L73.70 230.81 L73.95 230.84 L74.20 230.88 L74.45 230.91 L74.70 230.94 L74.95 230.97 L75.20 231.00 L75.45 231.02 L75.70 231.04 L75.95 231.06 L76.20 231.08 L76.45 231.10 L76.70 231.11 L76.95 231.13 L77.20 231.14 L77.45 231.15 L77.70 231.16 L77.95 231.17 L78.20 231.18 L78.45 231.19 L78.70 231.20 L78.95 231.21 L79.20 231.22 L79.45 231.22 L79.70 231.23 L79.95 231.23 L80.20 231.24 L80.45 231.24 L80.70 231.25 L80.95 231.25 L81.20 231.25 L81.30 231.30 L82.10 219.30 L82.60 154.50 L82.85 167.28 L83.10 177.83 L83.35 186.55 L83.60 193.76 L83.85 199.73 L84.10 204.68 L84.35 208.79 L84.60 212.21 L84.85 215.06 L85.10 217.44 L85.35 219.43 L85.60 221.10 L85.85 222.50 L86.10 223.68 L86.35 224.68 L86.60 225.53 L86.85 226.25 L87.10 226.86 L87.35 227.39 L87.60 227.84 L87.85 228.23 L88.10 228.56 L88.35 228.85 L88.60 229.11 L88.85 229.33 L89.10 229.53 L89.35 229.70 L89.60 229.85 L89.85 229.98 L90.10 230.10 L90.35 230.21 L90.60 230.31 L90.85 230.39 L91.10 230.47 L91.35 230.54 L91.60 230.60 L91.85 230.66 L92.10 230.71 L92.35 230.76 L92.60 230.81 L92.85 230.84 L93.10 230.88 L93.35 230.91 L93.60 230.94 L93.85 230.97 L94.10 231.00 L94.35 231.02 L94.60 231.04 L94.85 231.06 L95.10 231.08 L95.35 231.10 L95.60 231.11 L95.85 231.13 L96.10 231.14 L96.35 231.15 L96.60 231.16 L96.85 231.17 L97.10 231.18 L97.35 231.19 L97.60 231.20 L97.85 231.21 L98.10 231.22 L98.35 231.22 L98.60 231.23 L98.85 231.23 L99.10 231.24 L99.35 231.24 L99.60 231.25 L99.85 231.25 L100.10 231.25 L100.35 231.26 L100.50 231.30 L101.30 219.30 L101.80 154.50 L102.05 167.28 L102.30 177.83 L102.55 186.55 L102.80 193.76 L103.05 199.73 L103.30 204.68 L103.55 208.79 L103.80 212.21 L104.05 215.06 L104.30 217.44 L104.55 219.43 L104.80 221.10 L105.05 222.50 L105.30 223.68 L105.55 224.68 L105.80 225.53 L106.05 226.25 L106.30 226.86 L106.55 227.39 L106.80 227.84 L107.05 228.23 L107.30 228.56 L107.55 228.85 L107.80 229.11 L108.05 229.33 L108.30 229.53 L108.55 229.70 L108.80 229.85 L109.05 229.98 L109.30 230.10 L109.55 230.21 L109.80 230.31 L110.05 230.39 L110.30 230.47 L110.55 230.54 L110.80 230.60 L111.05 230.66 L111.30 230.71 L111.55 230.76 L111.80 230.81 L112.05 230.84 L112.30 230.88 L112.55 230.91 L112.80 230.94 L113.05 230.97 L113.30 231.00 L113.55 231.02 L113.80 231.04 L114.05 231.06 L114.30 231.08 L114.55 231.10 L114.80 231.11 L115.05 231.13 L115.30 231.14 L115.55 231.15 L115.80 231.16 L116.05 231.17 L116.30 231.18 L116.55 231.19 L116.80 231.20 L117.05 231.21 L117.30 231.22 L117.55 231.22 L117.80 231.23 L118.05 231.23 L118.30 231.24 L118.55 231.24 L118.80 231.25 L119.05 231.25 L119.30 231.25 L119.55 231.26 L119.60 231.30 L120.40 219.30 L120.90 154.50 L121.15 167.28 L121.40 177.83 L121.65 186.55 L121.90 193.76 L122.15 199.73 L122.40 204.68 L122.65 208.79 L122.90 212.21 L123.15 215.06 L123.40 217.44 L123.65 219.43 L123.90 221.10 L124.15 222.50 L124.40 223.68 L124.65 224.68 L124.90 225.53 L125.15 226.25 L125.40 226.86 L125.65 227.39 L125.90 227.84 L126.15 228.23 L126.40 228.56 L126.65 228.85 L126.90 229.11 L127.15 229.33 L127.40 229.53 L127.65 229.70 L127.90 229.85 L128.15 229.98 L128.40 230.10 L128.65 230.21 L128.90 230.31 L129.15 230.39 L129.40 230.47 L129.65 230.54 L129.90 230.60 L130.15 230.66 L130.40 230.71 L130.65 230.76 L130.90 230.81 L131.15 230.84 L131.40 230.88 L131.65 230.91 L131.90 230.94 L132.15 230.97 L132.40 231.00 L132.65 231.02 L132.90 231.04 L133.15 231.06 L133.40 231.08 L133.65 231.10 L133.90 231.11 L134.15 231.13 L134.40 231.14 L134.65 231.15 L134.90 231.16 L135.15 231.17 L135.40 231.18 L135.65 231.19 L135.90 231.20 L136.15 231.21 L136.40 231.22 L136.65 231.22 L136.90 231.23 L137.15 231.23 L137.40 231.24 L137.65 231.24 L137.90 231.25 L138.15 231.25 L138.40 231.25 L138.65 231.26 L138.70 231.30 L139.50 219.30 L140.00 154.50 L140.25 167.28 L140.50 177.83 L140.75 186.55 L141.00 193.76 L141.25 199.73 L141.50 204.68 L141.75 208.79 L142.00 212.21 L142.25 215.06 L142.50 217.44 L142.75 219.43 L143.00 221.10 L143.25 222.50 L143.50 223.68 L143.75 224.68 L144.00 225.53 L144.25 226.25 L144.50 226.86 L144.75 227.39 L145.00 227.84 L145.25 228.23 L145.50 228.56 L145.75 228.85 L146.00 229.11 L146.25 229.33 L146.50 229.53 L146.75 229.70 L147.00 229.85 L147.25 229.98 L147.50 230.10 L147.75 230.21 L148.00 230.31 L148.25 230.39 L148.50 230.47 L148.75 230.54 L149.00 230.60 L149.25 230.66 L149.50 230.71 L149.75 230.76 L150.00 230.81 L150.25 230.84 L150.50 230.88 L150.75 230.91 L151.00 230.94 L151.25 230.97 L151.50 231.00 L151.75 231.02 L152.00 231.04 L152.25 231.06 L152.50 231.08 L152.75 231.10 L153.00 231.11 L153.25 231.13 L153.50 231.14 L153.75 231.15 L154.00 231.16 L154.25 231.17 L154.50 231.18 L154.75 231.19 L155.00 231.20 L155.25 231.21 L155.50 231.22 L155.75 231.22 L156.00 231.23 L156.25 231.23 L156.50 231.24 L156.75 231.24 L157.00 231.25 L157.25 231.25 L157.50 231.25 L157.75 231.26 L157.90 231.30 L158.70 219.30 L159.20 154.50 L159.45 167.28 L159.70 177.83 L159.95 186.55 L160.20 193.76 L160.45 199.73 L160.70 204.68 L160.95 208.79 L161.20 212.21 L161.45 215.06 L161.70 217.44 L161.95 219.43 L162.20 221.10 L162.45 222.50 L162.70 223.68 L162.95 224.68 L163.20 225.53 L163.45 226.25 L163.70 226.86 L163.95 227.39 L164.20 227.84 L164.45 228.23 L164.70 228.56 L164.95 228.85 L165.20 229.11 L165.45 229.33 L165.70 229.53 L165.95 229.70 L166.20 229.85 L166.45 229.98 L166.70 230.10 L166.95 230.21 L167.20 230.31 L167.45 230.39 L167.70 230.47 L167.95 230.54 L168.20 230.60 L168.45 230.66 L168.70 230.71 L168.95 230.76 L169.20 230.81 L169.45 230.84 L169.70 230.88 L169.95 230.91 L170.20 230.94 L170.45 230.97 L170.70 231.00 L170.95 231.02 L171.20 231.04 L171.45 231.06 L171.70 231.08 L171.95 231.10 L172.20 231.11 L172.45 231.13 L172.70 231.14 L172.95 231.15 L173.20 231.16 L173.45 231.17 L173.70 231.18 L173.95 231.19 L174.20 231.20 L174.45 231.21 L174.70 231.22 L174.95 231.22 L175.20 231.23 L175.45 231.23 L175.70 231.24 L175.95 231.24 L176.20 231.25 L176.45 231.25 L176.60 231.00 L177.40 219.30 L177.90 154.30 L178.15 176.29 L178.40 185.41 L178.65 192.84 L178.90 198.88 L179.15 203.79 L179.40 207.78 L179.65 211.02 L179.90 213.65 L180.15 215.79 L180.40 217.52 L180.65 218.92 L180.90 220.06 L181.15 220.97 L181.40 221.72 L181.65 222.32 L181.90 222.81 L182.15 223.20 L182.40 223.52 L182.65 223.78 L182.90 224.00 L183.15 224.18 L183.40 224.32 L183.65 224.45 L183.90 224.56 L184.15 224.65 L184.40 224.74 L184.65 224.82 L184.90 224.90 L185.15 224.98 L185.40 225.06 L185.65 225.15 L185.90 225.24 L186.15 225.34 L186.40 225.44 L186.65 225.55 L186.90 225.68 L187.15 225.81 L187.40 225.95 L187.65 226.11 L187.90 226.27 L188.15 226.45 L188.40 226.63 L188.65 226.83 L188.90 227.03 L189.15 227.24 L189.40 227.46 L189.65 227.68 L189.90 227.90 L190.15 228.13 L190.40 228.35 L190.65 228.56 L190.90 228.78 L191.15 228.98 L191.40 229.18 L191.65 229.36 L191.90 229.54 L192.15 229.71 L192.40 229.86 L192.65 230.01 L192.90 230.14 L193.15 230.26 L193.40 230.37 L193.65 230.47 L193.90 230.56 L194.15 230.64 L194.40 230.72 L194.65 230.78 L194.90 230.84 L195.15 230.90 L195.40 230.94 L195.65 230.99 L195.90 231.02 L196.15 231.06 L196.30 231.00 L197.10 219.30 L197.60 161.80 L197.85 181.57 L198.10 189.73 L198.35 196.38 L198.60 201.78 L198.85 206.16 L199.10 209.72 L199.35 212.61 L199.60 214.96 L199.85 216.85 L200.10 218.39 L200.35 219.64 L200.60 220.64 L200.85 221.45 L201.10 222.11 L201.35 222.64 L201.60 223.07 L201.85 223.42 L202.10 223.70 L202.35 223.93 L202.60 224.12 L202.85 224.27 L203.10 224.40 L203.35 224.51 L203.60 224.61 L203.85 224.70 L204.10 224.78 L204.35 224.85 L204.60 224.93 L204.85 225.00 L205.10 225.08 L205.35 225.16 L205.60 225.25 L205.85 225.34 L206.10 225.45 L206.35 225.56 L206.60 225.68 L206.85 225.81 L207.10 225.95 L207.35 226.11 L207.60 226.27 L207.85 226.45 L208.10 226.63 L208.35 226.83 L208.60 227.03 L208.85 227.24 L209.10 227.46 L209.35 227.68 L209.60 227.90 L209.85 228.13 L210.10 228.35 L210.35 228.56 L210.60 228.78 L210.85 228.98 L211.10 229.18 L211.35 229.36 L211.60 229.54 L211.85 229.71 L212.10 229.86 L212.35 230.01 L212.60 230.14 L212.85 230.26 L213.10 230.37 L213.35 230.47 L213.60 230.56 L213.85 230.64 L214.10 230.72 L214.35 230.78 L214.60 230.84 L214.85 230.90 L215.10 230.94 L215.35 230.99 L215.60 231.02 L215.85 231.06 L216.10 231.08 L216.35 231.11 L216.60 231.13 L216.85 231.15 L217.10 231.17 L217.35 231.19 L217.60 231.00 L218.40 219.30 L218.90 160.20 L219.15 180.44 L219.40 188.81 L219.65 195.62 L219.90 201.16 L220.15 205.66 L220.40 209.31 L220.65 212.27 L220.90 214.68 L221.15 216.63 L221.40 218.21 L221.65 219.48 L221.90 220.52 L222.15 221.35 L222.40 222.03 L222.65 222.57 L222.90 223.01 L223.15 223.37 L223.40 223.66 L223.65 223.90 L223.90 224.09 L224.15 224.25 L224.40 224.39 L224.65 224.50 L224.90 224.60 L225.15 224.69 L225.40 224.77 L225.65 224.85 L225.90 224.92 L226.15 225.00 L226.40 225.08 L226.65 225.16 L226.90 225.25 L227.15 225.34 L227.40 225.45 L227.65 225.56 L227.90 225.68 L228.15 225.81 L228.40 225.95 L228.65 226.11 L228.90 226.27 L229.15 226.45 L229.40 226.63 L229.65 226.83 L229.90 227.03 L230.15 227.24 L230.40 227.46 L230.65 227.68 L230.90 227.90 L231.15 228.13 L231.40 228.35 L231.65 228.56 L231.90 228.78 L232.15 228.98 L232.40 229.18 L232.65 229.36 L232.90 229.54 L233.15 229.71 L233.40 229.86 L233.65 230.01 L233.90 230.14 L234.15 230.26 L234.40 230.37 L234.65 230.47 L234.90 230.56 L235.15 230.64 L235.40 230.72 L235.65 230.78 L235.90 230.84 L236.15 230.90 L236.40 230.94 L236.65 230.99 L236.90 231.02 L237.15 231.06 L237.40 231.08 L237.65 231.11 L237.90 231.13 L238.15 231.15 L238.40 231.17 L238.65 231.19 L238.90 231.20 L239.15 231.21 L239.30 231.00 L240.10 219.30 L240.60 158.20 L240.85 179.03 L241.10 187.66 L241.35 194.68 L241.60 200.39 L241.85 205.02 L242.10 208.79 L242.35 211.85 L242.60 214.33 L242.85 216.34 L243.10 217.97 L243.35 219.29 L243.60 220.36 L243.85 221.22 L244.10 221.92 L244.35 222.49 L244.60 222.94 L244.85 223.31 L245.10 223.61 L245.35 223.86 L245.60 224.06 L245.85 224.23 L246.10 224.36 L246.35 224.48 L246.60 224.58 L246.85 224.68 L247.10 224.76 L247.35 224.84 L247.60 224.92 L247.85 224.99 L248.10 225.07 L248.35 225.16 L248.60 225.24 L248.85 225.34 L249.10 225.44 L249.35 225.56 L249.60 225.68 L249.85 225.81 L250.10 225.95 L250.35 226.11 L250.60 226.27 L250.85 226.45 L251.10 226.63 L251.35 226.83 L251.60 227.03 L251.85 227.24 L252.10 227.46 L252.35 227.68 L252.60 227.90 L252.85 228.13 L253.10 228.35 L253.35 228.56 L253.60 228.78 L253.85 228.98 L254.10 229.18 L254.35 229.36 L254.60 229.54 L254.85 229.71 L255.10 229.86 L255.35 230.01 L255.60 230.14 L255.85 230.26 L256.10 230.37 L256.35 230.47 L256.60 230.56 L256.85 230.64 L257.10 230.72 L257.35 230.78 L257.60 230.84 L257.85 230.90 L258.10 230.94 L258.35 230.99 L258.60 231.02 L258.85 231.06 L259.10 231.08 L259.35 231.11 L259.60 231.13 L259.85 231.15 L260.10 231.17 L260.35 231.19 L260.60 231.20 L260.85 231.21 L261.00 231.00 L261.80 219.30 L262.30 157.60 L262.55 178.61 L262.80 187.31 L263.05 194.39 L263.30 200.15 L263.55 204.83 L263.80 208.64 L264.05 211.72 L264.30 214.23 L264.55 216.26 L264.80 217.90 L265.05 219.24 L265.30 220.31 L265.55 221.19 L265.80 221.89 L266.05 222.46 L266.30 222.92 L266.55 223.30 L266.80 223.60 L267.05 223.85 L267.30 224.05 L267.55 224.22 L267.80 224.36 L268.05 224.48 L268.30 224.58 L268.55 224.67 L268.80 224.76 L269.05 224.84 L269.30 224.91 L269.55 224.99 L269.80 225.07 L270.05 225.16 L270.30 225.24 L270.55 225.34 L270.80 225.44 L271.05 225.56 L271.30 225.68 L271.55 225.81 L271.80 225.95 L272.05 226.11 L272.30 226.27 L272.55 226.45 L272.80 226.63 L273.05 226.83 L273.30 227.03 L273.55 227.24 L273.80 227.46 L274.05 227.68 L274.30 227.90 L274.55 228.13 L274.80 228.35 L275.05 228.56 L275.30 228.78 L275.55 228.98 L275.80 229.18 L276.05 229.36 L276.30 229.54 L276.55 229.71 L276.80 229.86 L277.05 230.01 L277.30 230.14 L277.55 230.26 L277.80 230.37 L278.05 230.47 L278.30 230.56 L278.55 230.64 L278.80 230.72 L279.05 230.78 L279.30 230.84 L279.55 230.90 L279.80 230.94 L280.05 230.99 L280.30 231.02 L280.55 231.06 L280.80 231.08 L281.05 231.11 L281.30 231.13 L281.55 231.15 L281.80 231.17 L282.05 231.19 L282.30 231.20 L282.55 231.21 L282.80 231.22 L283.05 231.23 L283.10 231.00 L283.90 219.30 L284.40 157.60 L284.65 178.61 L284.90 187.31 L285.15 194.39 L285.40 200.15 L285.65 204.83 L285.90 208.64 L286.15 211.72 L286.40 214.23 L286.65 216.26 L286.90 217.90 L287.15 219.24 L287.40 220.31 L287.65 221.19 L287.90 221.89 L288.15 222.46 L288.40 222.92 L288.65 223.30 L288.90 223.60 L289.15 223.85 L289.40 224.05 L289.65 224.22 L289.90 224.36 L290.15 224.48 L290.40 224.58 L290.65 224.67 L290.90 224.76 L291.15 224.84 L291.40 224.91 L291.65 224.99 L291.90 225.07 L292.15 225.16 L292.40 225.24 L292.65 225.34 L292.90 225.44 L293.15 225.56 L293.40 225.68 L293.65 225.81 L293.90 225.95 L294.15 226.11 L294.40 226.27 L294.65 226.45 L294.90 226.63 L295.15 226.83 L295.40 227.03 L295.65 227.24 L295.90 227.46 L296.15 227.68 L296.40 227.90 L296.65 228.13 L296.90 228.35 L297.15 228.56 L297.40 228.78 L297.65 228.98 L297.90 229.18 L298.15 229.36 L298.40 229.54 L298.65 229.71 L298.90 229.86 L299.15 230.01 L299.40 230.14 L299.65 230.26 L299.90 230.37 L300.15 230.47 L300.40 230.56 L300.65 230.64 L300.90 230.72 L301.15 230.78 L301.40 230.84 L301.65 230.90 L301.90 230.94 L302.15 230.99 L302.40 231.02 L302.65 231.06 L302.90 231.08 L303.15 231.11 L303.40 231.13 L303.65 231.15 L303.90 231.17 L304.15 231.19 L304.40 231.20 L304.65 231.21 L304.90 231.00 L305.70 219.30 L306.20 157.60 L306.45 178.61 L306.70 187.31 L306.95 194.39 L307.20 200.15 L307.45 204.83 L307.70 208.64 L307.95 211.72 L308.20 214.23 L308.45 216.26 L308.70 217.90 L308.95 219.24 L309.20 220.31 L309.45 221.19 L309.70 221.89 L309.95 222.46 L310.20 222.92 L310.45 223.30 L310.70 223.60 L310.95 223.85 L311.20 224.05 L311.45 224.22 L311.70 224.36 L311.95 224.48 L312.20 224.58 L312.45 224.67 L312.70 224.76 L312.95 224.84 L313.20 224.91 L313.45 224.99 L313.70 225.07 L313.95 225.16 L314.20 225.24 L314.45 225.34 L314.70 225.44 L314.95 225.56 L315.20 225.68 L315.45 225.81 L315.70 225.95 L315.95 226.11 L316.20 226.27 L316.45 226.45 L316.70 226.63 L316.95 226.83 L317.20 227.03 L317.45 227.24 L317.70 227.46 L317.95 227.68 L318.20 227.90 L318.45 228.13 L318.70 228.35 L318.95 228.56 L319.20 228.78 L319.45 228.98 L319.70 229.18 L319.95 229.36 L320.20 229.54 L320.45 229.71 L320.70 229.86 L320.95 230.01 L321.20 230.14 L321.45 230.26 L321.70 230.37 L321.95 230.47 L322.20 230.56 L322.45 230.64 L322.70 230.72 L322.95 230.78 L323.20 230.84 L323.45 230.90 L323.70 230.94 L323.95 230.99 L324.20 231.02 L324.45 231.06 L324.70 231.08 L324.95 231.11 L325.20 231.13 L325.45 231.15 L325.70 231.17 L325.95 231.19 L326.20 231.20 L326.45 231.21 L326.70 231.22 L326.80 231.00 L327.60 219.30 L328.10 157.60 L328.35 178.61 L328.60 187.31 L328.85 194.39 L329.10 200.15 L329.35 204.83 L329.60 208.64 L329.85 211.72 L330.10 214.23 L330.35 216.26 L330.60 217.90 L330.85 219.24 L331.10 220.31 L331.35 221.19 L331.60 221.89 L331.85 222.46 L332.10 222.92 L332.35 223.30 L332.60 223.60 L332.85 223.85 L333.10 224.05 L333.35 224.22 L333.60 224.36 L333.85 224.48 L334.10 224.58 L334.35 224.67 L334.60 224.76 L334.85 224.84 L335.10 224.91 L335.35 224.99 L335.60 225.07 L335.85 225.16 L336.10 225.24 L336.35 225.34 L336.60 225.44 L336.85 225.56 L337.10 225.68 L337.35 225.81 L337.60 225.95 L337.85 226.11 L338.10 226.27 L338.35 226.45 L338.60 226.63 L338.85 226.83 L339.10 227.03 L339.35 227.24 L339.60 227.46 L339.85 227.68 L340.10 227.90 L340.35 228.13 L340.60 228.35 L340.85 228.56 L341.10 228.78 L341.35 228.98 L341.60 229.18 L341.85 229.36 L342.10 229.54 L342.35 229.71 L342.60 229.86 L342.85 230.01 L343.10 230.14 L343.35 230.26 L343.60 230.37 L343.85 230.47 L344.10 230.56 L344.35 230.64 L344.60 230.72 L344.85 230.78 L345.10 230.84 L345.35 230.90 L345.60 230.94 L345.85 230.99 L346.10 231.02 L346.35 231.06 L346.60 231.08 L346.85 231.11 L347.10 231.13 L347.35 231.15 L347.60 231.17 L347.85 231.19 L348.10 231.20 L348.35 231.21 L348.60 231.22 L348.85 231.23 L349.10 231.24 L349.30 231.00 L350.10 219.30 L350.60 157.60 L350.85 178.61 L351.10 187.31 L351.35 194.39 L351.60 200.15 L351.85 204.83 L352.10 208.64 L352.35 211.72 L352.60 214.23 L352.85 216.26 L353.10 217.90 L353.35 219.24 L353.60 220.31 L353.85 221.19 L354.10 221.89 L354.35 222.46 L354.60 222.92 L354.85 223.30 L355.10 223.60 L355.35 223.85 L355.60 224.05 L355.85 224.22 L356.10 224.36 L356.35 224.48 L356.60 224.58 L356.85 224.67 L357.10 224.76 L357.35 224.84 L357.60 224.91 L357.85 224.99 L358.10 225.07 L358.35 225.16 L358.60 225.24 L358.85 225.34 L359.10 225.44 L359.35 225.56 L359.60 225.68 L359.85 225.81 L360.10 225.95 L360.35 226.11 L360.60 226.27 L360.85 226.45 L361.10 226.63 L361.35 226.83 L361.60 227.03 L361.85 227.24 L362.10 227.46 L362.35 227.68 L362.60 227.90 L362.85 228.13 L363.10 228.35 L363.35 228.56 L363.60 228.78 L363.85 228.98 L364.10 229.18 L364.35 229.36 L364.60 229.54 L364.85 229.71 L365.10 229.86 L365.35 230.01 L365.60 230.14 L365.85 230.26 L366.10 230.37 L366.35 230.47 L366.60 230.56 L366.85 230.64 L367.10 230.72 L367.35 230.78 L367.60 230.84 L367.85 230.90 L368.10 230.94 L368.35 230.99 L368.60 231.02 L368.85 231.06 L369.10 231.08 L369.35 231.11 L369.60 231.13 L369.85 231.15 L370.10 231.17 L370.35 231.19 L370.60 231.20 L370.85 231.21 L371.10 231.22 L371.35 231.23 L371.60 231.24 L371.85 231.25 L372.10 231.25 L372.35 231.26 L372.60 231.26 L372.85 231.27 L373.10 231.27 L373.35 231.28 L373.60 231.28 L373.85 231.28 L374.10 231.28 L374.35 231.29 L374.60 231.29 L374.85 231.29 L375.10 231.29 L380.00 230.60 L463.80 230.30" fill="none" stroke="#111" stroke-width="1.25" stroke-linejoin="round"/>
<rect x="59.5" y="132.0" width="404.3" height="117.0" fill="none" stroke="#666" stroke-width="0.75"/>
<path d="M54.5 177.5H59.5M54.5 248.9H59.5M59.5 249.0V253.4M463.8 249.0V253.4M463.8 165H468.40000000000003M463.8 233.7H468.40000000000003" stroke="#000" stroke-width="1.3" fill="none"/>
<path d="M75 151.3H106M134 151.3H168" stroke="#111" stroke-width="1.1" fill="none"/>
<path d="M68.4 151.3l9 -3.2v6.4zM174.7 151.3l-9 -3.2v6.4z" fill="#111"/>
<path d="M188 151.9H201.3M341.3 152H354" stroke="#7fb0ee" stroke-width="1.2" fill="none"/>
<path d="M181.8 151.9l8 -2.7v5.4zM360.2 152l-8 -2.7v5.4z" fill="#2b7be0"/>
</g>
<text transform="translate(93.4 145.3) scale(1 1.15)" font-size="11.65" fill="#000" stroke="#000" stroke-width="0.2" text-anchor="start">arrhythmia</text>
<text transform="translate(227.5 147.6) scale(1 1.15)" font-size="11.8" fill="#2b7be0" stroke="#2b7be0" stroke-width="0.2" text-anchor="start">feedback pacing</text>
<text transform="translate(380.4 148.6) scale(1 1.15)" font-size="13.1" fill="#000" stroke="#000" stroke-width="0.2" text-anchor="start">termination</text>
<text transform="translate(49.4 184.7) scale(1 1.17)" font-size="14.7" fill="#000" stroke="#000" stroke-width="0.2" text-anchor="end">0.0</text>
<text transform="translate(49.4 251.8) scale(1 1.17)" font-size="14.6" fill="#000" stroke="#000" stroke-width="0.2" text-anchor="end">-100</text>
<text transform="translate(59.8 268.5) scale(1 1.17)" font-size="14.7" fill="#000" stroke="#000" stroke-width="0.2" text-anchor="middle">0</text>
<text transform="translate(463.2 268.0) scale(1 1.17)" font-size="14.3" fill="#000" stroke="#000" stroke-width="0.2" text-anchor="middle">1500</text>
<text transform="translate(473.6 170.1) scale(1 1.15)" font-size="14.4" fill="#2b7be0" stroke="#2b7be0" stroke-width="0.2" text-anchor="start">20</text>
<text transform="translate(473.6 239.2) scale(1 1.15)" font-size="14.4" fill="#2b7be0" stroke="#2b7be0" stroke-width="0.2" text-anchor="start">0.0</text>
<text transform="translate(250.2 279.3) scale(1 1.12)" font-size="17.5" fill="#000" stroke="#000" stroke-width="0.2" text-anchor="middle">time (ms)</text>
<text transform="translate(17.6 201.5) rotate(-90) scale(1.15 1)" font-size="13.4" fill="#000" stroke="#000" stroke-width="0.2" text-anchor="middle">V (mV)</text>
<text transform="translate(515.0 190.6) rotate(-90) scale(1.15 1)" font-size="12.8" fill="#2b7be0" stroke="#2b7be0" stroke-width="0.2" text-anchor="middle" letter-spacing="0.32">LI (µW/mm<tspan dy="-4.5" font-size="8.8">2</tspan><tspan dy="4.5">)</tspan></text>
<text transform="translate(1.2 141.4) scale(1 1.1)" font-size="13" fill="#000" stroke="#000" stroke-width="0.2" text-anchor="start">e</text>
<g id="pf">
<rect x="123.0" y="320.0" width="290.8" height="169.3" fill="#fff"/>
<path d="M136.99 481.75 L165.50 447.50 L182.18 387.70 L194.01 360.80 L210.68 327.50 L222.52 355.00 L239.19 339.60 L251.02 327.50 L260.20 327.50 L288.71 327.50 L400.08 327.50" fill="none" stroke="#0a0a0a" stroke-width="1.15" stroke-linejoin="round"/><path d="M136.99 481.75V481.75M128.29 481.75h17.4M128.29 481.75h17.4M165.50 454.20V442.00M156.80 454.20h17.4M156.80 442.00h17.4M182.18 395.00V380.80M173.48 395.00h17.4M173.48 380.80h17.4M194.01 367.50V355.00M185.31 367.50h17.4M185.31 355.00h17.4M210.68 327.50V327.50M201.98 327.50h17.4M201.98 327.50h17.4M222.52 360.00V349.50M213.82 360.00h17.4M213.82 349.50h17.4M239.19 343.30V336.20M230.49 343.30h17.4M230.49 336.20h17.4" fill="none" stroke="#0a0a0a" stroke-width="1.7"/><circle cx="136.99" cy="481.75" r="2.0" fill="#0a0a0a"/><circle cx="165.50" cy="447.50" r="2.0" fill="#0a0a0a"/><circle cx="182.18" cy="387.70" r="2.0" fill="#0a0a0a"/><circle cx="194.01" cy="360.80" r="2.0" fill="#0a0a0a"/><circle cx="210.68" cy="327.50" r="2.0" fill="#0a0a0a"/><circle cx="222.52" cy="355.00" r="2.0" fill="#0a0a0a"/><circle cx="239.19" cy="339.60" r="2.0" fill="#0a0a0a"/><circle cx="251.02" cy="327.50" r="2.0" fill="#0a0a0a"/><circle cx="260.20" cy="327.50" r="2.0" fill="#0a0a0a"/><circle cx="288.71" cy="327.50" r="2.0" fill="#0a0a0a"/><circle cx="400.08" cy="327.50" r="2.0" fill="#0a0a0a"/>
<circle cx="136.99" cy="481.75" r="3.3" fill="#0a0a0a"/>
<path d="M182.18 481.75 L194.01 469.20 L203.18 469.20 L210.68 469.20 L217.02 444.40 L222.52 389.20 L227.36 358.00 L231.69 389.20 L239.19 327.50 L245.53 327.50 L251.02 327.50 L255.87 327.50 L260.20 327.50 L288.71 327.50" fill="none" stroke="#1c4fa3" stroke-width="1.5" stroke-linejoin="round"/><path d="M194.01 477.80V461.00M189.01 477.80h10.0M189.01 461.00h10.0M203.18 477.80V461.00M198.18 477.80h10.0M198.18 461.00h10.0M210.68 477.80V461.00M205.68 477.80h10.0M205.68 461.00h10.0M217.02 458.00V431.00M212.02 458.00h10.0M212.02 431.00h10.0M222.52 389.20V389.20M217.52 389.20h10.0M217.52 389.20h10.0M227.36 370.80V347.00M222.36 370.80h10.0M222.36 347.00h10.0M231.69 403.60V374.60M226.69 403.60h10.0M226.69 374.60h10.0" fill="none" stroke="#1c4fa3" stroke-width="1.5"/><circle cx="182.18" cy="481.75" r="2.05" fill="#1c4fa3"/><circle cx="194.01" cy="469.20" r="2.05" fill="#1c4fa3"/><circle cx="203.18" cy="469.20" r="2.05" fill="#1c4fa3"/><circle cx="210.68" cy="469.20" r="2.05" fill="#1c4fa3"/><circle cx="217.02" cy="444.40" r="2.05" fill="#1c4fa3"/><circle cx="222.52" cy="389.20" r="2.05" fill="#1c4fa3"/><circle cx="227.36" cy="358.00" r="2.05" fill="#1c4fa3"/><circle cx="231.69" cy="389.20" r="2.05" fill="#1c4fa3"/><circle cx="239.19" cy="327.50" r="2.05" fill="#1c4fa3"/><circle cx="245.53" cy="327.50" r="2.05" fill="#1c4fa3"/><circle cx="251.02" cy="327.50" r="2.05" fill="#1c4fa3"/><circle cx="255.87" cy="327.50" r="2.05" fill="#1c4fa3"/><circle cx="260.20" cy="327.50" r="2.05" fill="#1c4fa3"/><circle cx="288.71" cy="327.50" r="2.05" fill="#1c4fa3"/>
<path d="M188.71 461H215.98M188.71 477.8H215.98" stroke="#1c4fa3" stroke-width="1.5" fill="none"/>
<path d="M136.99 481.75 L165.50 481.75 L182.18 481.75 L194.01 481.75 L203.18 481.75 L210.68 481.75 L217.02 481.75 L222.52 481.75 L227.36 481.75 L231.69 481.75 L239.19 481.75 L245.53 481.75 L251.02 481.75 L255.87 481.75 L260.20 481.75 L288.71 327.50 L305.38 327.50 L317.22 327.50 L326.39 327.50 L354.90 327.50 L383.41 327.50 L400.08 327.50" fill="none" stroke="#f01414" stroke-width="1.3" stroke-linejoin="round"/><circle cx="136.99" cy="481.75" r="2.05" fill="#f01414"/><circle cx="165.50" cy="481.75" r="2.05" fill="#f01414"/><circle cx="182.18" cy="481.75" r="2.05" fill="#f01414"/><circle cx="194.01" cy="481.75" r="2.05" fill="#f01414"/><circle cx="203.18" cy="481.75" r="2.05" fill="#f01414"/><circle cx="210.68" cy="481.75" r="2.05" fill="#f01414"/><circle cx="217.02" cy="481.75" r="2.05" fill="#f01414"/><circle cx="222.52" cy="481.75" r="2.05" fill="#f01414"/><circle cx="227.36" cy="481.75" r="2.05" fill="#f01414"/><circle cx="231.69" cy="481.75" r="2.05" fill="#f01414"/><circle cx="239.19" cy="481.75" r="2.05" fill="#f01414"/><circle cx="245.53" cy="481.75" r="2.05" fill="#f01414"/><circle cx="251.02" cy="481.75" r="2.05" fill="#f01414"/><circle cx="255.87" cy="481.75" r="2.05" fill="#f01414"/><circle cx="260.20" cy="481.75" r="2.05" fill="#f01414"/><circle cx="288.71" cy="327.50" r="2.05" fill="#f01414"/><circle cx="305.38" cy="327.50" r="2.05" fill="#f01414"/><circle cx="317.22" cy="327.50" r="2.05" fill="#f01414"/><circle cx="326.39" cy="327.50" r="2.05" fill="#f01414"/><circle cx="354.90" cy="327.50" r="2.05" fill="#f01414"/><circle cx="383.41" cy="327.50" r="2.05" fill="#f01414"/><circle cx="400.08" cy="327.50" r="2.05" fill="#f01414"/>
<circle cx="136.99" cy="481.75" r="2.3" fill="#f01414"/>
<rect x="123.0" y="320.0" width="78.30000000000001" height="169.3" fill="#0a640a" fill-opacity="0.41"/>
<rect x="123.0" y="320.0" width="290.8" height="169.3" fill="none" stroke="#555" stroke-width="0.8"/>
<path d="M165.80 489.3v3.8M260.50 489.3v3.8M355.20 489.3v3.8" stroke="#222" stroke-width="0.95" fill="none"/>
<path d="M127.82 489.3v2.1M136.99 489.3v2.1M144.49 489.3v2.1M150.83 489.3v2.1M156.32 489.3v2.1M161.17 489.3v2.1M194.01 489.3v2.1M210.68 489.3v2.1M222.52 489.3v2.1M231.69 489.3v2.1M239.19 489.3v2.1M245.53 489.3v2.1M251.02 489.3v2.1M255.87 489.3v2.1M288.71 489.3v2.1M305.38 489.3v2.1M317.22 489.3v2.1M326.39 489.3v2.1M333.89 489.3v2.1M340.23 489.3v2.1M345.72 489.3v2.1M350.57 489.3v2.1M383.41 489.3v2.1M400.08 489.3v2.1M411.92 489.3v2.1" stroke="#444" stroke-width="0.6" fill="none"/>
<rect x="306.8" y="413.4" width="98.2" height="19.2" fill="#fff" stroke="#6a6a6a" stroke-width="1.05"/>
<rect x="308" y="454.6" width="97.4" height="30.8" fill="#fff" stroke="#2c3340" stroke-width="1.05" stroke-dasharray="2.3 1.4"/>
<path d="M311.2 423H325M311.2 419.8H325M311.2 426.2H325M318.1 419.8V426.2" stroke="#0a0a0a" stroke-width="1.4" fill="none"/>
<path d="M310.4 463.2H324M317.2 459.9V466.5M313.4 459.9h7.6M313.4 466.5h7.6" stroke="#1c4fa3" stroke-width="1.45" fill="none"/><circle cx="317.2" cy="463.2" r="1.6" fill="#1c4fa3"/>
<path d="M310.4 478.7H324M317.2 475.4V482.0M313.4 475.4h7.6M313.4 482.0h7.6" stroke="#f01414" stroke-width="1.45" fill="none"/><circle cx="317.2" cy="478.7" r="1.6" fill="#f01414"/>
</g>
<text transform="translate(307.8 405.6) scale(1 1.05)" font-size="12" fill="#111" stroke="#111" stroke-width="0.2" text-anchor="start">feedback pacing</text>
<text transform="translate(328.2 427.8) scale(1 1.05)" font-size="12" fill="#111" stroke="#111" stroke-width="0.2" text-anchor="start">PL = <tspan dx="1.6">20 ms</tspan></text>
<text transform="translate(323.6 450.5) scale(1 1.05)" font-size="11.5" fill="#4a4a4a" stroke="#4a4a4a" stroke-width="0.2" text-anchor="start">single pulse</text>
<text transform="translate(328.8 467) scale(1 1.05)" font-size="11.8" fill="#111" stroke="#111" stroke-width="0.2" text-anchor="start">PL = 100 ms</text>
<text transform="translate(328.8 482.3) scale(1 1.05)" font-size="11.8" fill="#111" stroke="#111" stroke-width="0.2" text-anchor="start">PL = 10 ms</text>
<text transform="translate(121.9 315.5) scale(1 1.08)" font-size="13.35" fill="#17402a" stroke="#17402a" stroke-width="0.2" text-anchor="start">sub-threshold</text>
<text transform="translate(128.4 334.2) scale(1 1.12)" font-size="13.4" fill="#17402a" stroke="#17402a" stroke-width="0.2" text-anchor="start">C</text>
<text transform="translate(101.5 400.8) rotate(-90) scale(1.0 1)" font-size="17.1" fill="#111" stroke="#111" stroke-width="0.2" text-anchor="middle">Termination rate %</text>
<text transform="translate(3 331.8) scale(1 1.05)" font-size="13" fill="#000" stroke="#000" stroke-width="0.2" text-anchor="start">f</text>
<text transform="translate(155.0 508.2) scale(1 1.05)" font-size="14.6" fill="#111" stroke="#111" stroke-width="0.2" text-anchor="start">10<tspan dy="-5.6" font-size="10">1</tspan></text>
<text transform="translate(249.7 508.2) scale(1 1.05)" font-size="14.6" fill="#111" stroke="#111" stroke-width="0.2" text-anchor="start">10<tspan dy="-5.6" font-size="10">2</tspan></text>
<text transform="translate(344.4 508.2) scale(1 1.05)" font-size="14.6" fill="#111" stroke="#111" stroke-width="0.2" text-anchor="start">10<tspan dy="-5.6" font-size="10">3</tspan></text>
<text transform="translate(231.0 525.7) scale(1 1.03)" font-size="12.6" fill="#111" stroke="#111" stroke-width="0.2" text-anchor="start">LI (<tspan font-style="italic">μ</tspan>W/mm<tspan dy="-4.2" font-size="8.2">2</tspan><tspan dy="4.2">)</tspan></text>
</svg>
</body></html>
